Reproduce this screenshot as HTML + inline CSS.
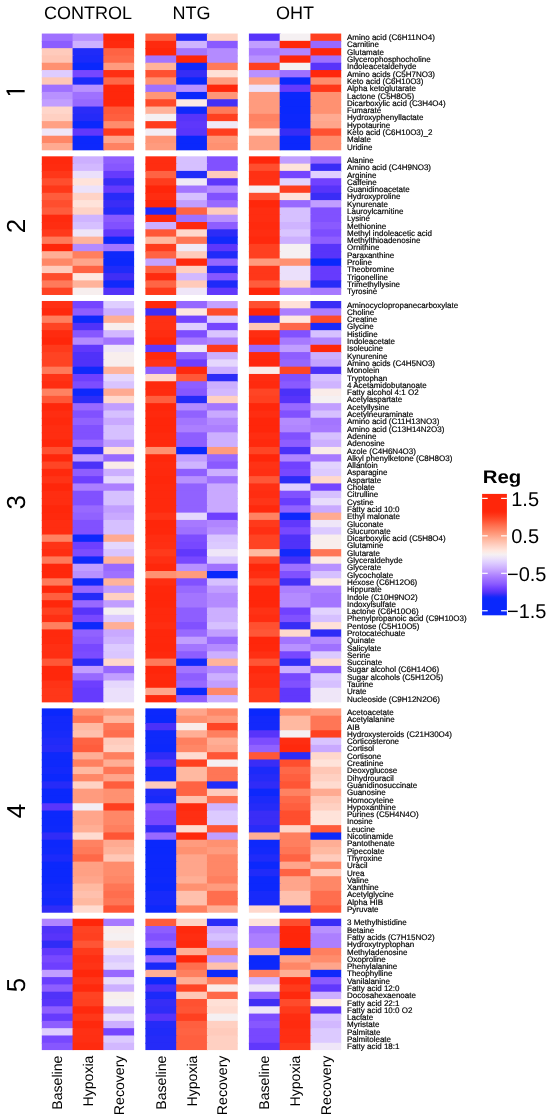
<!DOCTYPE html>
<html><head><meta charset="utf-8"><title>Heatmap</title>
<style>
html,body{margin:0;padding:0;background:#fff}
body{width:550px;height:1118px;overflow:hidden;position:relative}
svg{position:absolute;left:0;top:0;display:block}
text{font-family:"Liberation Sans",Arial,Helvetica,sans-serif;fill:#000;text-rendering:geometricPrecision}
.l{font-size:8.0px;stroke:#000;stroke-width:.18px}
.h{font-size:18px;text-anchor:middle}
.b{font-size:14.1px;text-anchor:end}
.k{font-size:26px;text-anchor:middle}
.t{font-size:20px}
.n{font-family:"IPAGothic","Liberation Sans",sans-serif}
</style></head><body>
<svg width="550" height="1118" viewBox="0 0 550 1118">
<rect width="550" height="1118" fill="#fff"/>
<text class="h" x="88.0" y="19.2">CONTROL</text>
<text class="h" x="191.6" y="19.2">NTG</text>
<text class="h" x="295.1" y="19.2">OHT</text>
<g>
<rect x="41.80" y="33.55" width="31.77" height="8.30" fill="#9f71ff"/>
<rect x="72.57" y="33.55" width="31.77" height="8.30" fill="#b891ff"/>
<rect x="103.34" y="33.55" width="30.77" height="8.30" fill="#ff270b"/>
<rect x="145.40" y="33.55" width="31.77" height="8.30" fill="#ff5d3d"/>
<rect x="176.17" y="33.55" width="31.77" height="8.30" fill="#262bf8"/>
<rect x="206.94" y="33.55" width="30.77" height="8.30" fill="#ffd2c4"/>
<rect x="248.90" y="33.55" width="31.77" height="8.30" fill="#5834fa"/>
<rect x="279.67" y="33.55" width="31.77" height="8.30" fill="#f5f0f2"/>
<rect x="310.44" y="33.55" width="30.77" height="8.30" fill="#ff4020"/>
<rect x="41.80" y="40.85" width="31.77" height="8.30" fill="#8c5dff"/>
<rect x="72.57" y="40.85" width="31.77" height="8.30" fill="#cdb1ff"/>
<rect x="103.34" y="40.85" width="30.77" height="8.30" fill="#ff2a0e"/>
<rect x="145.40" y="40.85" width="31.77" height="8.30" fill="#ff2a0e"/>
<rect x="176.17" y="40.85" width="31.77" height="8.30" fill="#cfb4ff"/>
<rect x="206.94" y="40.85" width="30.77" height="8.30" fill="#8a5aff"/>
<rect x="248.90" y="40.85" width="31.77" height="8.30" fill="#c19eff"/>
<rect x="279.67" y="40.85" width="31.77" height="8.30" fill="#ff270b"/>
<rect x="310.44" y="40.85" width="30.77" height="8.30" fill="#9869ff"/>
<rect x="41.80" y="48.15" width="31.77" height="8.30" fill="#ffcbbc"/>
<rect x="72.57" y="48.15" width="31.77" height="8.30" fill="#202bf9"/>
<rect x="103.34" y="48.15" width="30.77" height="8.30" fill="#ff6343"/>
<rect x="145.40" y="48.15" width="31.77" height="8.30" fill="#ff260a"/>
<rect x="176.17" y="48.15" width="31.77" height="8.30" fill="#a375ff"/>
<rect x="206.94" y="48.15" width="30.77" height="8.30" fill="#b48bff"/>
<rect x="248.90" y="48.15" width="31.77" height="8.30" fill="#a779ff"/>
<rect x="279.67" y="48.15" width="31.77" height="8.30" fill="#b085ff"/>
<rect x="310.44" y="48.15" width="30.77" height="8.30" fill="#ff260a"/>
<rect x="41.80" y="55.44" width="31.77" height="8.30" fill="#ffc5b4"/>
<rect x="72.57" y="55.44" width="31.77" height="8.30" fill="#1b2afa"/>
<rect x="103.34" y="55.44" width="30.77" height="8.30" fill="#ff6a4a"/>
<rect x="145.40" y="55.44" width="31.77" height="8.30" fill="#a375ff"/>
<rect x="176.17" y="55.44" width="31.77" height="8.30" fill="#ff260a"/>
<rect x="206.94" y="55.44" width="30.77" height="8.30" fill="#b48bff"/>
<rect x="248.90" y="55.44" width="31.77" height="8.30" fill="#b891ff"/>
<rect x="279.67" y="55.44" width="31.77" height="8.30" fill="#ff270b"/>
<rect x="310.44" y="55.44" width="30.77" height="8.30" fill="#9f71ff"/>
<rect x="41.80" y="62.74" width="31.77" height="8.30" fill="#ff9171"/>
<rect x="72.57" y="62.74" width="31.77" height="8.30" fill="#0a28fc"/>
<rect x="103.34" y="62.74" width="30.77" height="8.30" fill="#ff9b7e"/>
<rect x="145.40" y="62.74" width="31.77" height="8.30" fill="#ffb39b"/>
<rect x="176.17" y="62.74" width="31.77" height="8.30" fill="#1029fb"/>
<rect x="206.94" y="62.74" width="30.77" height="8.30" fill="#ff7a5a"/>
<rect x="248.90" y="62.74" width="31.77" height="8.30" fill="#ff4020"/>
<rect x="279.67" y="62.74" width="31.77" height="8.30" fill="#f5f0f2"/>
<rect x="310.44" y="62.74" width="30.77" height="8.30" fill="#5834fa"/>
<rect x="41.80" y="70.04" width="31.77" height="8.30" fill="#deccff"/>
<rect x="72.57" y="70.04" width="31.77" height="8.30" fill="#7747ff"/>
<rect x="103.34" y="70.04" width="30.77" height="8.30" fill="#ff2f13"/>
<rect x="145.40" y="70.04" width="31.77" height="8.30" fill="#ff5131"/>
<rect x="176.17" y="70.04" width="31.77" height="8.30" fill="#362df6"/>
<rect x="206.94" y="70.04" width="30.77" height="8.30" fill="#ffe0d6"/>
<rect x="248.90" y="70.04" width="31.77" height="8.30" fill="#b891ff"/>
<rect x="279.67" y="70.04" width="31.77" height="8.30" fill="#9f71ff"/>
<rect x="310.44" y="70.04" width="30.77" height="8.30" fill="#ff270b"/>
<rect x="41.80" y="77.34" width="31.77" height="8.30" fill="#ffc7b6"/>
<rect x="72.57" y="77.34" width="31.77" height="8.30" fill="#1c2afa"/>
<rect x="103.34" y="77.34" width="30.77" height="8.30" fill="#ff6848"/>
<rect x="145.40" y="77.34" width="31.77" height="8.30" fill="#ff9171"/>
<rect x="176.17" y="77.34" width="31.77" height="8.30" fill="#0a28fc"/>
<rect x="206.94" y="77.34" width="30.77" height="8.30" fill="#ff9b7e"/>
<rect x="248.90" y="77.34" width="31.77" height="8.30" fill="#ffa084"/>
<rect x="279.67" y="77.34" width="31.77" height="8.30" fill="#0b28fc"/>
<rect x="310.44" y="77.34" width="30.77" height="8.30" fill="#ff8c6c"/>
<rect x="41.80" y="84.64" width="31.77" height="8.30" fill="#9f71ff"/>
<rect x="72.57" y="84.64" width="31.77" height="8.30" fill="#b891ff"/>
<rect x="103.34" y="84.64" width="30.77" height="8.30" fill="#ff270b"/>
<rect x="145.40" y="84.64" width="31.77" height="8.30" fill="#9f71ff"/>
<rect x="176.17" y="84.64" width="31.77" height="8.30" fill="#b891ff"/>
<rect x="206.94" y="84.64" width="30.77" height="8.30" fill="#ff270b"/>
<rect x="248.90" y="84.64" width="31.77" height="8.30" fill="#ece2fa"/>
<rect x="279.67" y="84.64" width="31.77" height="8.30" fill="#653afd"/>
<rect x="310.44" y="84.64" width="30.77" height="8.30" fill="#ff3819"/>
<rect x="41.80" y="91.93" width="31.77" height="8.30" fill="#b891ff"/>
<rect x="72.57" y="91.93" width="31.77" height="8.30" fill="#9f71ff"/>
<rect x="103.34" y="91.93" width="30.77" height="8.30" fill="#ff270b"/>
<rect x="145.40" y="91.93" width="31.77" height="8.30" fill="#ff9677"/>
<rect x="176.17" y="91.93" width="31.77" height="8.30" fill="#0a28fc"/>
<rect x="206.94" y="91.93" width="30.77" height="8.30" fill="#ff9677"/>
<rect x="248.90" y="91.93" width="31.77" height="8.30" fill="#ff9b7e"/>
<rect x="279.67" y="91.93" width="31.77" height="8.30" fill="#0a28fc"/>
<rect x="310.44" y="91.93" width="30.77" height="8.30" fill="#ff9171"/>
<rect x="41.80" y="99.23" width="31.77" height="8.30" fill="#c19eff"/>
<rect x="72.57" y="99.23" width="31.77" height="8.30" fill="#9869ff"/>
<rect x="103.34" y="99.23" width="30.77" height="8.30" fill="#ff270b"/>
<rect x="145.40" y="99.23" width="31.77" height="8.30" fill="#ff4929"/>
<rect x="176.17" y="99.23" width="31.77" height="8.30" fill="#fdeae4"/>
<rect x="206.94" y="99.23" width="30.77" height="8.30" fill="#442ff6"/>
<rect x="248.90" y="99.23" width="31.77" height="8.30" fill="#ff9b7e"/>
<rect x="279.67" y="99.23" width="31.77" height="8.30" fill="#0a28fc"/>
<rect x="310.44" y="99.23" width="30.77" height="8.30" fill="#ff9171"/>
<rect x="41.80" y="106.53" width="31.77" height="8.30" fill="#ffd6ca"/>
<rect x="72.57" y="106.53" width="31.77" height="8.30" fill="#2b2cf8"/>
<rect x="103.34" y="106.53" width="30.77" height="8.30" fill="#ff5939"/>
<rect x="145.40" y="106.53" width="31.77" height="8.30" fill="#ffb39b"/>
<rect x="176.17" y="106.53" width="31.77" height="8.30" fill="#1029fb"/>
<rect x="206.94" y="106.53" width="30.77" height="8.30" fill="#ff7a5a"/>
<rect x="248.90" y="106.53" width="31.77" height="8.30" fill="#ff9b7e"/>
<rect x="279.67" y="106.53" width="31.77" height="8.30" fill="#0a28fc"/>
<rect x="310.44" y="106.53" width="30.77" height="8.30" fill="#ff9171"/>
<rect x="41.80" y="113.83" width="31.77" height="8.30" fill="#ffd0c2"/>
<rect x="72.57" y="113.83" width="31.77" height="8.30" fill="#252bf8"/>
<rect x="103.34" y="113.83" width="30.77" height="8.30" fill="#ff5f3f"/>
<rect x="145.40" y="113.83" width="31.77" height="8.30" fill="#f5f0f2"/>
<rect x="176.17" y="113.83" width="31.77" height="8.30" fill="#5834fa"/>
<rect x="206.94" y="113.83" width="30.77" height="8.30" fill="#ff4020"/>
<rect x="248.90" y="113.83" width="31.77" height="8.30" fill="#ff8262"/>
<rect x="279.67" y="113.83" width="31.77" height="8.30" fill="#0d28fc"/>
<rect x="310.44" y="113.83" width="30.77" height="8.30" fill="#ffaa91"/>
<rect x="41.80" y="121.13" width="31.77" height="8.30" fill="#ffa084"/>
<rect x="72.57" y="121.13" width="31.77" height="8.30" fill="#0b28fc"/>
<rect x="103.34" y="121.13" width="30.77" height="8.30" fill="#ff8c6c"/>
<rect x="145.40" y="121.13" width="31.77" height="8.30" fill="#ff3c1d"/>
<rect x="176.17" y="121.13" width="31.77" height="8.30" fill="#5e37fb"/>
<rect x="206.94" y="121.13" width="30.77" height="8.30" fill="#f0e9f6"/>
<rect x="248.90" y="121.13" width="31.77" height="8.30" fill="#ff8767"/>
<rect x="279.67" y="121.13" width="31.77" height="8.30" fill="#0c28fc"/>
<rect x="310.44" y="121.13" width="30.77" height="8.30" fill="#ffa58b"/>
<rect x="41.80" y="128.42" width="31.77" height="8.30" fill="#efe6f8"/>
<rect x="72.57" y="128.42" width="31.77" height="8.30" fill="#6138fc"/>
<rect x="103.34" y="128.42" width="30.77" height="8.30" fill="#ff3a1b"/>
<rect x="145.40" y="128.42" width="31.77" height="8.30" fill="#f3edf4"/>
<rect x="176.17" y="128.42" width="31.77" height="8.30" fill="#5a35fb"/>
<rect x="206.94" y="128.42" width="30.77" height="8.30" fill="#ff3e1f"/>
<rect x="248.90" y="128.42" width="31.77" height="8.30" fill="#ffe0d6"/>
<rect x="279.67" y="128.42" width="31.77" height="8.30" fill="#362df6"/>
<rect x="310.44" y="128.42" width="30.77" height="8.30" fill="#ff5131"/>
<rect x="41.80" y="135.72" width="31.77" height="8.30" fill="#ff8767"/>
<rect x="72.57" y="135.72" width="31.77" height="8.30" fill="#0c28fc"/>
<rect x="103.34" y="135.72" width="30.77" height="8.30" fill="#ffa58b"/>
<rect x="145.40" y="135.72" width="31.77" height="8.30" fill="#ff9677"/>
<rect x="176.17" y="135.72" width="31.77" height="8.30" fill="#0a28fc"/>
<rect x="206.94" y="135.72" width="30.77" height="8.30" fill="#ff9677"/>
<rect x="248.90" y="135.72" width="31.77" height="8.30" fill="#ffa084"/>
<rect x="279.67" y="135.72" width="31.77" height="8.30" fill="#0b28fc"/>
<rect x="310.44" y="135.72" width="30.77" height="8.30" fill="#ff8c6c"/>
<rect x="41.80" y="143.02" width="31.77" height="7.30" fill="#ffaa91"/>
<rect x="72.57" y="143.02" width="31.77" height="7.30" fill="#0d28fc"/>
<rect x="103.34" y="143.02" width="30.77" height="7.30" fill="#ff8262"/>
<rect x="145.40" y="143.02" width="31.77" height="7.30" fill="#ff9b7e"/>
<rect x="176.17" y="143.02" width="31.77" height="7.30" fill="#0a28fc"/>
<rect x="206.94" y="143.02" width="30.77" height="7.30" fill="#ff9171"/>
<rect x="248.90" y="143.02" width="31.77" height="7.30" fill="#ffa084"/>
<rect x="279.67" y="143.02" width="31.77" height="7.30" fill="#0b28fc"/>
<rect x="310.44" y="143.02" width="30.77" height="7.30" fill="#ff8c6c"/>
<rect x="41.80" y="156.32" width="31.77" height="8.30" fill="#ff290d"/>
<rect x="72.57" y="156.32" width="31.77" height="8.30" fill="#ccafff"/>
<rect x="103.34" y="156.32" width="30.77" height="8.30" fill="#8e5eff"/>
<rect x="145.40" y="156.32" width="31.77" height="8.30" fill="#ff2d11"/>
<rect x="176.17" y="156.32" width="31.77" height="8.30" fill="#d6c0ff"/>
<rect x="206.94" y="156.32" width="30.77" height="8.30" fill="#8151ff"/>
<rect x="248.90" y="156.32" width="31.77" height="8.30" fill="#ff270b"/>
<rect x="279.67" y="156.32" width="31.77" height="8.30" fill="#c19eff"/>
<rect x="310.44" y="156.32" width="30.77" height="8.30" fill="#9869ff"/>
<rect x="41.80" y="163.62" width="31.77" height="8.30" fill="#ff2b0f"/>
<rect x="72.57" y="163.62" width="31.77" height="8.30" fill="#d2b8ff"/>
<rect x="103.34" y="163.62" width="30.77" height="8.30" fill="#8757ff"/>
<rect x="145.40" y="163.62" width="31.77" height="8.30" fill="#ff2d11"/>
<rect x="176.17" y="163.62" width="31.77" height="8.30" fill="#d6c0ff"/>
<rect x="206.94" y="163.62" width="30.77" height="8.30" fill="#8151ff"/>
<rect x="248.90" y="163.62" width="31.77" height="8.30" fill="#ff4e2e"/>
<rect x="279.67" y="163.62" width="31.77" height="8.30" fill="#ffe3da"/>
<rect x="310.44" y="163.62" width="30.77" height="8.30" fill="#3a2df6"/>
<rect x="41.80" y="170.91" width="31.77" height="8.30" fill="#ff3719"/>
<rect x="72.57" y="170.91" width="31.77" height="8.30" fill="#ebe0fb"/>
<rect x="103.34" y="170.91" width="30.77" height="8.30" fill="#663bfd"/>
<rect x="145.40" y="170.91" width="31.77" height="8.30" fill="#ff6343"/>
<rect x="176.17" y="170.91" width="31.77" height="8.30" fill="#202bf9"/>
<rect x="206.94" y="170.91" width="30.77" height="8.30" fill="#ffcbbc"/>
<rect x="248.90" y="170.91" width="31.77" height="8.30" fill="#ff3114"/>
<rect x="279.67" y="170.91" width="31.77" height="8.30" fill="#7444ff"/>
<rect x="310.44" y="170.91" width="30.77" height="8.30" fill="#e0d0ff"/>
<rect x="41.80" y="178.21" width="31.77" height="8.30" fill="#ff4e2e"/>
<rect x="72.57" y="178.21" width="31.77" height="8.30" fill="#ffe3da"/>
<rect x="103.34" y="178.21" width="30.77" height="8.30" fill="#3a2df6"/>
<rect x="145.40" y="178.21" width="31.77" height="8.30" fill="#ff3c1d"/>
<rect x="176.17" y="178.21" width="31.77" height="8.30" fill="#f0e9f6"/>
<rect x="206.94" y="178.21" width="30.77" height="8.30" fill="#5e37fb"/>
<rect x="248.90" y="178.21" width="31.77" height="8.30" fill="#ff3215"/>
<rect x="279.67" y="178.21" width="31.77" height="8.30" fill="#e2d3fe"/>
<rect x="310.44" y="178.21" width="30.77" height="8.30" fill="#7141ff"/>
<rect x="41.80" y="185.51" width="31.77" height="8.30" fill="#ff3819"/>
<rect x="72.57" y="185.51" width="31.77" height="8.30" fill="#ece2fa"/>
<rect x="103.34" y="185.51" width="30.77" height="8.30" fill="#653afd"/>
<rect x="145.40" y="185.51" width="31.77" height="8.30" fill="#ff260a"/>
<rect x="176.17" y="185.51" width="31.77" height="8.30" fill="#a375ff"/>
<rect x="206.94" y="185.51" width="30.77" height="8.30" fill="#b48bff"/>
<rect x="248.90" y="185.51" width="31.77" height="8.30" fill="#f5f0f2"/>
<rect x="279.67" y="185.51" width="31.77" height="8.30" fill="#ff4020"/>
<rect x="310.44" y="185.51" width="30.77" height="8.30" fill="#5834fa"/>
<rect x="41.80" y="192.81" width="31.77" height="8.30" fill="#ff5c3c"/>
<rect x="72.57" y="192.81" width="31.77" height="8.30" fill="#ffd3c6"/>
<rect x="103.34" y="192.81" width="30.77" height="8.30" fill="#282bf8"/>
<rect x="145.40" y="192.81" width="31.77" height="8.30" fill="#ff2d11"/>
<rect x="176.17" y="192.81" width="31.77" height="8.30" fill="#d6c0ff"/>
<rect x="206.94" y="192.81" width="30.77" height="8.30" fill="#8151ff"/>
<rect x="248.90" y="192.81" width="31.77" height="8.30" fill="#ff4e2e"/>
<rect x="279.67" y="192.81" width="31.77" height="8.30" fill="#ffe3da"/>
<rect x="310.44" y="192.81" width="30.77" height="8.30" fill="#3a2df6"/>
<rect x="41.80" y="200.11" width="31.77" height="8.30" fill="#ff4e2e"/>
<rect x="72.57" y="200.11" width="31.77" height="8.30" fill="#ffe3da"/>
<rect x="103.34" y="200.11" width="30.77" height="8.30" fill="#3a2df6"/>
<rect x="145.40" y="200.11" width="31.77" height="8.30" fill="#ff270b"/>
<rect x="176.17" y="200.11" width="31.77" height="8.30" fill="#c19eff"/>
<rect x="206.94" y="200.11" width="30.77" height="8.30" fill="#9869ff"/>
<rect x="248.90" y="200.11" width="31.77" height="8.30" fill="#ff270b"/>
<rect x="279.67" y="200.11" width="31.77" height="8.30" fill="#9869ff"/>
<rect x="310.44" y="200.11" width="30.77" height="8.30" fill="#c19eff"/>
<rect x="41.80" y="207.40" width="31.77" height="8.30" fill="#ff5c3c"/>
<rect x="72.57" y="207.40" width="31.77" height="8.30" fill="#ffd3c6"/>
<rect x="103.34" y="207.40" width="30.77" height="8.30" fill="#282bf8"/>
<rect x="145.40" y="207.40" width="31.77" height="8.30" fill="#202bf9"/>
<rect x="176.17" y="207.40" width="31.77" height="8.30" fill="#ff6343"/>
<rect x="206.94" y="207.40" width="30.77" height="8.30" fill="#ffcbbc"/>
<rect x="248.90" y="207.40" width="31.77" height="8.30" fill="#ff2d11"/>
<rect x="279.67" y="207.40" width="31.77" height="8.30" fill="#d6c0ff"/>
<rect x="310.44" y="207.40" width="30.77" height="8.30" fill="#8151ff"/>
<rect x="41.80" y="214.70" width="31.77" height="8.30" fill="#ff2a0e"/>
<rect x="72.57" y="214.70" width="31.77" height="8.30" fill="#cfb4ff"/>
<rect x="103.34" y="214.70" width="30.77" height="8.30" fill="#8a5aff"/>
<rect x="145.40" y="214.70" width="31.77" height="8.30" fill="#ff270b"/>
<rect x="176.17" y="214.70" width="31.77" height="8.30" fill="#9f71ff"/>
<rect x="206.94" y="214.70" width="30.77" height="8.30" fill="#b891ff"/>
<rect x="248.90" y="214.70" width="31.77" height="8.30" fill="#ff2d11"/>
<rect x="279.67" y="214.70" width="31.77" height="8.30" fill="#d6c0ff"/>
<rect x="310.44" y="214.70" width="30.77" height="8.30" fill="#8151ff"/>
<rect x="41.80" y="222.00" width="31.77" height="8.30" fill="#ff2d11"/>
<rect x="72.57" y="222.00" width="31.77" height="8.30" fill="#d6c0ff"/>
<rect x="103.34" y="222.00" width="30.77" height="8.30" fill="#8151ff"/>
<rect x="145.40" y="222.00" width="31.77" height="8.30" fill="#ccafff"/>
<rect x="176.17" y="222.00" width="31.77" height="8.30" fill="#ff290d"/>
<rect x="206.94" y="222.00" width="30.77" height="8.30" fill="#8e5eff"/>
<rect x="248.90" y="222.00" width="31.77" height="8.30" fill="#ff2a0e"/>
<rect x="279.67" y="222.00" width="31.77" height="8.30" fill="#cfb4ff"/>
<rect x="310.44" y="222.00" width="30.77" height="8.30" fill="#8a5aff"/>
<rect x="41.80" y="229.30" width="31.77" height="8.30" fill="#ff391b"/>
<rect x="72.57" y="229.30" width="31.77" height="8.30" fill="#eee5f8"/>
<rect x="103.34" y="229.30" width="30.77" height="8.30" fill="#6239fc"/>
<rect x="145.40" y="229.30" width="31.77" height="8.30" fill="#ff5737"/>
<rect x="176.17" y="229.30" width="31.77" height="8.30" fill="#ffd8cc"/>
<rect x="206.94" y="229.30" width="30.77" height="8.30" fill="#2d2cf7"/>
<rect x="248.90" y="229.30" width="31.77" height="8.30" fill="#ff2d11"/>
<rect x="279.67" y="229.30" width="31.77" height="8.30" fill="#d9c4ff"/>
<rect x="310.44" y="229.30" width="30.77" height="8.30" fill="#7d4dff"/>
<rect x="41.80" y="236.60" width="31.77" height="8.30" fill="#ff7a5a"/>
<rect x="72.57" y="236.60" width="31.77" height="8.30" fill="#ffb39b"/>
<rect x="103.34" y="236.60" width="30.77" height="8.30" fill="#1029fb"/>
<rect x="145.40" y="236.60" width="31.77" height="8.30" fill="#ffb9a1"/>
<rect x="176.17" y="236.60" width="31.77" height="8.30" fill="#ff7656"/>
<rect x="206.94" y="236.60" width="30.77" height="8.30" fill="#1329fb"/>
<rect x="248.90" y="236.60" width="31.77" height="8.30" fill="#ff290d"/>
<rect x="279.67" y="236.60" width="31.77" height="8.30" fill="#ccafff"/>
<rect x="310.44" y="236.60" width="30.77" height="8.30" fill="#8e5eff"/>
<rect x="41.80" y="243.89" width="31.77" height="8.30" fill="#ff260a"/>
<rect x="72.57" y="243.89" width="31.77" height="8.30" fill="#b48bff"/>
<rect x="103.34" y="243.89" width="30.77" height="8.30" fill="#a375ff"/>
<rect x="145.40" y="243.89" width="31.77" height="8.30" fill="#ff3c1d"/>
<rect x="176.17" y="243.89" width="31.77" height="8.30" fill="#f0e9f6"/>
<rect x="206.94" y="243.89" width="30.77" height="8.30" fill="#5e37fb"/>
<rect x="248.90" y="243.89" width="31.77" height="8.30" fill="#ff4020"/>
<rect x="279.67" y="243.89" width="31.77" height="8.30" fill="#f5f0f2"/>
<rect x="310.44" y="243.89" width="30.77" height="8.30" fill="#5834fa"/>
<rect x="41.80" y="251.19" width="31.77" height="8.30" fill="#ffae95"/>
<rect x="72.57" y="251.19" width="31.77" height="8.30" fill="#ff7f5f"/>
<rect x="103.34" y="251.19" width="30.77" height="8.30" fill="#0e29fb"/>
<rect x="145.40" y="251.19" width="31.77" height="8.30" fill="#ff6343"/>
<rect x="176.17" y="251.19" width="31.77" height="8.30" fill="#ffcbbc"/>
<rect x="206.94" y="251.19" width="30.77" height="8.30" fill="#202bf9"/>
<rect x="248.90" y="251.19" width="31.77" height="8.30" fill="#ff4020"/>
<rect x="279.67" y="251.19" width="31.77" height="8.30" fill="#f5f0f2"/>
<rect x="310.44" y="251.19" width="30.77" height="8.30" fill="#5834fa"/>
<rect x="41.80" y="258.49" width="31.77" height="8.30" fill="#ff8767"/>
<rect x="72.57" y="258.49" width="31.77" height="8.30" fill="#ffa58b"/>
<rect x="103.34" y="258.49" width="30.77" height="8.30" fill="#0c28fc"/>
<rect x="145.40" y="258.49" width="31.77" height="8.30" fill="#c4a2ff"/>
<rect x="176.17" y="258.49" width="31.77" height="8.30" fill="#ff280c"/>
<rect x="206.94" y="258.49" width="30.77" height="8.30" fill="#9567ff"/>
<rect x="248.90" y="258.49" width="31.77" height="8.30" fill="#ff9b7e"/>
<rect x="279.67" y="258.49" width="31.77" height="8.30" fill="#ff9171"/>
<rect x="310.44" y="258.49" width="30.77" height="8.30" fill="#0a28fc"/>
<rect x="41.80" y="265.79" width="31.77" height="8.30" fill="#ffcbbc"/>
<rect x="72.57" y="265.79" width="31.77" height="8.30" fill="#ff6343"/>
<rect x="103.34" y="265.79" width="30.77" height="8.30" fill="#202bf9"/>
<rect x="145.40" y="265.79" width="31.77" height="8.30" fill="#ff5f3f"/>
<rect x="176.17" y="265.79" width="31.77" height="8.30" fill="#ffd0c2"/>
<rect x="206.94" y="265.79" width="30.77" height="8.30" fill="#252bf8"/>
<rect x="248.90" y="265.79" width="31.77" height="8.30" fill="#ff3719"/>
<rect x="279.67" y="265.79" width="31.77" height="8.30" fill="#ebe0fb"/>
<rect x="310.44" y="265.79" width="30.77" height="8.30" fill="#663bfd"/>
<rect x="41.80" y="273.09" width="31.77" height="8.30" fill="#ff4b2b"/>
<rect x="72.57" y="273.09" width="31.77" height="8.30" fill="#ffe8e0"/>
<rect x="103.34" y="273.09" width="30.77" height="8.30" fill="#402ef5"/>
<rect x="145.40" y="273.09" width="31.77" height="8.30" fill="#ff2b0f"/>
<rect x="176.17" y="273.09" width="31.77" height="8.30" fill="#d2b8ff"/>
<rect x="206.94" y="273.09" width="30.77" height="8.30" fill="#8757ff"/>
<rect x="248.90" y="273.09" width="31.77" height="8.30" fill="#ff3719"/>
<rect x="279.67" y="273.09" width="31.77" height="8.30" fill="#ebe0fb"/>
<rect x="310.44" y="273.09" width="30.77" height="8.30" fill="#663bfd"/>
<rect x="41.80" y="280.38" width="31.77" height="8.30" fill="#ff7a5a"/>
<rect x="72.57" y="280.38" width="31.77" height="8.30" fill="#ffb39b"/>
<rect x="103.34" y="280.38" width="30.77" height="8.30" fill="#1029fb"/>
<rect x="145.40" y="280.38" width="31.77" height="8.30" fill="#ff6545"/>
<rect x="176.17" y="280.38" width="31.77" height="8.30" fill="#ffcaba"/>
<rect x="206.94" y="280.38" width="30.77" height="8.30" fill="#1f2af9"/>
<rect x="248.90" y="280.38" width="31.77" height="8.30" fill="#ff5c3c"/>
<rect x="279.67" y="280.38" width="31.77" height="8.30" fill="#ffd3c6"/>
<rect x="310.44" y="280.38" width="30.77" height="8.30" fill="#282bf8"/>
<rect x="41.80" y="287.68" width="31.77" height="7.30" fill="#ff4222"/>
<rect x="72.57" y="287.68" width="31.77" height="7.30" fill="#f7eeee"/>
<rect x="103.34" y="287.68" width="30.77" height="7.30" fill="#5333f9"/>
<rect x="145.40" y="287.68" width="31.77" height="7.30" fill="#ff3a1b"/>
<rect x="176.17" y="287.68" width="31.77" height="7.30" fill="#efe6f8"/>
<rect x="206.94" y="287.68" width="30.77" height="7.30" fill="#6138fc"/>
<rect x="248.90" y="287.68" width="31.77" height="7.30" fill="#ff260a"/>
<rect x="279.67" y="287.68" width="31.77" height="7.30" fill="#b085ff"/>
<rect x="310.44" y="287.68" width="30.77" height="7.30" fill="#a779ff"/>
<rect x="41.80" y="300.98" width="31.77" height="8.30" fill="#ff3014"/>
<rect x="72.57" y="300.98" width="31.77" height="8.30" fill="#7545ff"/>
<rect x="103.34" y="300.98" width="30.77" height="8.30" fill="#dfceff"/>
<rect x="145.40" y="300.98" width="31.77" height="8.30" fill="#ff280c"/>
<rect x="176.17" y="300.98" width="31.77" height="8.30" fill="#9567ff"/>
<rect x="206.94" y="300.98" width="30.77" height="8.30" fill="#c4a2ff"/>
<rect x="248.90" y="300.98" width="31.77" height="8.30" fill="#ff5030"/>
<rect x="279.67" y="300.98" width="31.77" height="8.30" fill="#ffe1d8"/>
<rect x="310.44" y="300.98" width="30.77" height="8.30" fill="#382df6"/>
<rect x="41.80" y="308.28" width="31.77" height="8.30" fill="#ff290d"/>
<rect x="72.57" y="308.28" width="31.77" height="8.30" fill="#8e5eff"/>
<rect x="103.34" y="308.28" width="30.77" height="8.30" fill="#ccafff"/>
<rect x="145.40" y="308.28" width="31.77" height="8.30" fill="#402ef5"/>
<rect x="176.17" y="308.28" width="31.77" height="8.30" fill="#ffe8e0"/>
<rect x="206.94" y="308.28" width="30.77" height="8.30" fill="#ff4b2b"/>
<rect x="248.90" y="308.28" width="31.77" height="8.30" fill="#ff260a"/>
<rect x="279.67" y="308.28" width="31.77" height="8.30" fill="#ac7fff"/>
<rect x="310.44" y="308.28" width="30.77" height="8.30" fill="#ac7fff"/>
<rect x="41.80" y="315.58" width="31.77" height="8.30" fill="#ff7f5f"/>
<rect x="72.57" y="315.58" width="31.77" height="8.30" fill="#0e29fb"/>
<rect x="103.34" y="315.58" width="30.77" height="8.30" fill="#ffae95"/>
<rect x="145.40" y="315.58" width="31.77" height="8.30" fill="#ff3014"/>
<rect x="176.17" y="315.58" width="31.77" height="8.30" fill="#7545ff"/>
<rect x="206.94" y="315.58" width="30.77" height="8.30" fill="#dfceff"/>
<rect x="248.90" y="315.58" width="31.77" height="8.30" fill="#402ef5"/>
<rect x="279.67" y="315.58" width="31.77" height="8.30" fill="#ffe8e0"/>
<rect x="310.44" y="315.58" width="30.77" height="8.30" fill="#ff4b2b"/>
<rect x="41.80" y="322.87" width="31.77" height="8.30" fill="#ff4323"/>
<rect x="72.57" y="322.87" width="31.77" height="8.30" fill="#5032f9"/>
<rect x="103.34" y="322.87" width="30.77" height="8.30" fill="#f8eeed"/>
<rect x="145.40" y="322.87" width="31.77" height="8.30" fill="#ff3014"/>
<rect x="176.17" y="322.87" width="31.77" height="8.30" fill="#dfceff"/>
<rect x="206.94" y="322.87" width="30.77" height="8.30" fill="#7545ff"/>
<rect x="248.90" y="322.87" width="31.77" height="8.30" fill="#ffc7b6"/>
<rect x="279.67" y="322.87" width="31.77" height="8.30" fill="#ff6848"/>
<rect x="310.44" y="322.87" width="30.77" height="8.30" fill="#1c2afa"/>
<rect x="41.80" y="330.17" width="31.77" height="8.30" fill="#ff2b0f"/>
<rect x="72.57" y="330.17" width="31.77" height="8.30" fill="#8757ff"/>
<rect x="103.34" y="330.17" width="30.77" height="8.30" fill="#d2b8ff"/>
<rect x="145.40" y="330.17" width="31.77" height="8.30" fill="#ff2d11"/>
<rect x="176.17" y="330.17" width="31.77" height="8.30" fill="#7d4dff"/>
<rect x="206.94" y="330.17" width="30.77" height="8.30" fill="#d9c4ff"/>
<rect x="248.90" y="330.17" width="31.77" height="8.30" fill="#ff2d11"/>
<rect x="279.67" y="330.17" width="31.77" height="8.30" fill="#8151ff"/>
<rect x="310.44" y="330.17" width="30.77" height="8.30" fill="#d6c0ff"/>
<rect x="41.80" y="337.47" width="31.77" height="8.30" fill="#ff260a"/>
<rect x="72.57" y="337.47" width="31.77" height="8.30" fill="#b48bff"/>
<rect x="103.34" y="337.47" width="30.77" height="8.30" fill="#a375ff"/>
<rect x="145.40" y="337.47" width="31.77" height="8.30" fill="#ff260a"/>
<rect x="176.17" y="337.47" width="31.77" height="8.30" fill="#a779ff"/>
<rect x="206.94" y="337.47" width="30.77" height="8.30" fill="#b085ff"/>
<rect x="248.90" y="337.47" width="31.77" height="8.30" fill="#ff260a"/>
<rect x="279.67" y="337.47" width="31.77" height="8.30" fill="#a779ff"/>
<rect x="310.44" y="337.47" width="30.77" height="8.30" fill="#b085ff"/>
<rect x="41.80" y="344.77" width="31.77" height="8.30" fill="#ff3a1b"/>
<rect x="72.57" y="344.77" width="31.77" height="8.30" fill="#6138fc"/>
<rect x="103.34" y="344.77" width="30.77" height="8.30" fill="#efe6f8"/>
<rect x="145.40" y="344.77" width="31.77" height="8.30" fill="#6138fc"/>
<rect x="176.17" y="344.77" width="31.77" height="8.30" fill="#efe6f8"/>
<rect x="206.94" y="344.77" width="30.77" height="8.30" fill="#ff3a1b"/>
<rect x="248.90" y="344.77" width="31.77" height="8.30" fill="#9869ff"/>
<rect x="279.67" y="344.77" width="31.77" height="8.30" fill="#c19eff"/>
<rect x="310.44" y="344.77" width="30.77" height="8.30" fill="#ff270b"/>
<rect x="41.80" y="352.07" width="31.77" height="8.30" fill="#ff4323"/>
<rect x="72.57" y="352.07" width="31.77" height="8.30" fill="#5032f9"/>
<rect x="103.34" y="352.07" width="30.77" height="8.30" fill="#f8eeed"/>
<rect x="145.40" y="352.07" width="31.77" height="8.30" fill="#ff290d"/>
<rect x="176.17" y="352.07" width="31.77" height="8.30" fill="#8e5eff"/>
<rect x="206.94" y="352.07" width="30.77" height="8.30" fill="#ccafff"/>
<rect x="248.90" y="352.07" width="31.77" height="8.30" fill="#ff290d"/>
<rect x="279.67" y="352.07" width="31.77" height="8.30" fill="#8e5eff"/>
<rect x="310.44" y="352.07" width="30.77" height="8.30" fill="#ccafff"/>
<rect x="41.80" y="359.36" width="31.77" height="8.30" fill="#ff4323"/>
<rect x="72.57" y="359.36" width="31.77" height="8.30" fill="#5032f9"/>
<rect x="103.34" y="359.36" width="30.77" height="8.30" fill="#f8eeed"/>
<rect x="145.40" y="359.36" width="31.77" height="8.30" fill="#ff3316"/>
<rect x="176.17" y="359.36" width="31.77" height="8.30" fill="#6e3fff"/>
<rect x="206.94" y="359.36" width="30.77" height="8.30" fill="#e5d7fd"/>
<rect x="248.90" y="359.36" width="31.77" height="8.30" fill="#ff280c"/>
<rect x="279.67" y="359.36" width="31.77" height="8.30" fill="#9567ff"/>
<rect x="310.44" y="359.36" width="30.77" height="8.30" fill="#c4a2ff"/>
<rect x="41.80" y="366.66" width="31.77" height="8.30" fill="#ff7a5a"/>
<rect x="72.57" y="366.66" width="31.77" height="8.30" fill="#1029fb"/>
<rect x="103.34" y="366.66" width="30.77" height="8.30" fill="#ffb39b"/>
<rect x="145.40" y="366.66" width="31.77" height="8.30" fill="#8e5eff"/>
<rect x="176.17" y="366.66" width="31.77" height="8.30" fill="#ff290d"/>
<rect x="206.94" y="366.66" width="30.77" height="8.30" fill="#ccafff"/>
<rect x="248.90" y="366.66" width="31.77" height="8.30" fill="#faece9"/>
<rect x="279.67" y="366.66" width="31.77" height="8.30" fill="#ff4525"/>
<rect x="310.44" y="366.66" width="30.77" height="8.30" fill="#4b31f8"/>
<rect x="41.80" y="373.96" width="31.77" height="8.30" fill="#ff3316"/>
<rect x="72.57" y="373.96" width="31.77" height="8.30" fill="#6e3fff"/>
<rect x="103.34" y="373.96" width="30.77" height="8.30" fill="#e5d7fd"/>
<rect x="145.40" y="373.96" width="31.77" height="8.30" fill="#ffd8cc"/>
<rect x="176.17" y="373.96" width="31.77" height="8.30" fill="#ff5737"/>
<rect x="206.94" y="373.96" width="30.77" height="8.30" fill="#2d2cf7"/>
<rect x="248.90" y="373.96" width="31.77" height="8.30" fill="#ff2d11"/>
<rect x="279.67" y="373.96" width="31.77" height="8.30" fill="#8151ff"/>
<rect x="310.44" y="373.96" width="30.77" height="8.30" fill="#d6c0ff"/>
<rect x="41.80" y="381.26" width="31.77" height="8.30" fill="#ff2d11"/>
<rect x="72.57" y="381.26" width="31.77" height="8.30" fill="#7d4dff"/>
<rect x="103.34" y="381.26" width="30.77" height="8.30" fill="#d9c4ff"/>
<rect x="145.40" y="381.26" width="31.77" height="8.30" fill="#ff290d"/>
<rect x="176.17" y="381.26" width="31.77" height="8.30" fill="#8e5eff"/>
<rect x="206.94" y="381.26" width="30.77" height="8.30" fill="#ccafff"/>
<rect x="248.90" y="381.26" width="31.77" height="8.30" fill="#ff2a0e"/>
<rect x="279.67" y="381.26" width="31.77" height="8.30" fill="#8a5aff"/>
<rect x="310.44" y="381.26" width="30.77" height="8.30" fill="#cfb4ff"/>
<rect x="41.80" y="388.56" width="31.77" height="8.30" fill="#ff8262"/>
<rect x="72.57" y="388.56" width="31.77" height="8.30" fill="#0d28fc"/>
<rect x="103.34" y="388.56" width="30.77" height="8.30" fill="#ffaa91"/>
<rect x="145.40" y="388.56" width="31.77" height="8.30" fill="#ff2b0f"/>
<rect x="176.17" y="388.56" width="31.77" height="8.30" fill="#8757ff"/>
<rect x="206.94" y="388.56" width="30.77" height="8.30" fill="#d2b8ff"/>
<rect x="248.90" y="388.56" width="31.77" height="8.30" fill="#ff4525"/>
<rect x="279.67" y="388.56" width="31.77" height="8.30" fill="#4b31f8"/>
<rect x="310.44" y="388.56" width="30.77" height="8.30" fill="#faece9"/>
<rect x="41.80" y="395.85" width="31.77" height="8.30" fill="#ff5737"/>
<rect x="72.57" y="395.85" width="31.77" height="8.30" fill="#2d2cf7"/>
<rect x="103.34" y="395.85" width="30.77" height="8.30" fill="#ffd8cc"/>
<rect x="145.40" y="395.85" width="31.77" height="8.30" fill="#ff5f3f"/>
<rect x="176.17" y="395.85" width="31.77" height="8.30" fill="#252bf8"/>
<rect x="206.94" y="395.85" width="30.77" height="8.30" fill="#ffd0c2"/>
<rect x="248.90" y="395.85" width="31.77" height="8.30" fill="#ff4020"/>
<rect x="279.67" y="395.85" width="31.77" height="8.30" fill="#5834fa"/>
<rect x="310.44" y="395.85" width="30.77" height="8.30" fill="#f5f0f2"/>
<rect x="41.80" y="403.15" width="31.77" height="8.30" fill="#ff270b"/>
<rect x="72.57" y="403.15" width="31.77" height="8.30" fill="#9869ff"/>
<rect x="103.34" y="403.15" width="30.77" height="8.30" fill="#c19eff"/>
<rect x="145.40" y="403.15" width="31.77" height="8.30" fill="#ff260a"/>
<rect x="176.17" y="403.15" width="31.77" height="8.30" fill="#b48bff"/>
<rect x="206.94" y="403.15" width="30.77" height="8.30" fill="#a375ff"/>
<rect x="248.90" y="403.15" width="31.77" height="8.30" fill="#ff270b"/>
<rect x="279.67" y="403.15" width="31.77" height="8.30" fill="#9869ff"/>
<rect x="310.44" y="403.15" width="30.77" height="8.30" fill="#c19eff"/>
<rect x="41.80" y="410.45" width="31.77" height="8.30" fill="#ff2d11"/>
<rect x="72.57" y="410.45" width="31.77" height="8.30" fill="#8151ff"/>
<rect x="103.34" y="410.45" width="30.77" height="8.30" fill="#d6c0ff"/>
<rect x="145.40" y="410.45" width="31.77" height="8.30" fill="#ff290d"/>
<rect x="176.17" y="410.45" width="31.77" height="8.30" fill="#9162ff"/>
<rect x="206.94" y="410.45" width="30.77" height="8.30" fill="#c9a9ff"/>
<rect x="248.90" y="410.45" width="31.77" height="8.30" fill="#ff2d11"/>
<rect x="279.67" y="410.45" width="31.77" height="8.30" fill="#8151ff"/>
<rect x="310.44" y="410.45" width="30.77" height="8.30" fill="#d6c0ff"/>
<rect x="41.80" y="417.75" width="31.77" height="8.30" fill="#ff290d"/>
<rect x="72.57" y="417.75" width="31.77" height="8.30" fill="#9162ff"/>
<rect x="103.34" y="417.75" width="30.77" height="8.30" fill="#c9a9ff"/>
<rect x="145.40" y="417.75" width="31.77" height="8.30" fill="#ff260a"/>
<rect x="176.17" y="417.75" width="31.77" height="8.30" fill="#a375ff"/>
<rect x="206.94" y="417.75" width="30.77" height="8.30" fill="#b48bff"/>
<rect x="248.90" y="417.75" width="31.77" height="8.30" fill="#ff260a"/>
<rect x="279.67" y="417.75" width="31.77" height="8.30" fill="#b48bff"/>
<rect x="310.44" y="417.75" width="30.77" height="8.30" fill="#a375ff"/>
<rect x="41.80" y="425.05" width="31.77" height="8.30" fill="#ff2d11"/>
<rect x="72.57" y="425.05" width="31.77" height="8.30" fill="#8151ff"/>
<rect x="103.34" y="425.05" width="30.77" height="8.30" fill="#d6c0ff"/>
<rect x="145.40" y="425.05" width="31.77" height="8.30" fill="#ff260a"/>
<rect x="176.17" y="425.05" width="31.77" height="8.30" fill="#ac7fff"/>
<rect x="206.94" y="425.05" width="30.77" height="8.30" fill="#ac7fff"/>
<rect x="248.90" y="425.05" width="31.77" height="8.30" fill="#ff260a"/>
<rect x="279.67" y="425.05" width="31.77" height="8.30" fill="#b085ff"/>
<rect x="310.44" y="425.05" width="30.77" height="8.30" fill="#a779ff"/>
<rect x="41.80" y="432.34" width="31.77" height="8.30" fill="#ff2d11"/>
<rect x="72.57" y="432.34" width="31.77" height="8.30" fill="#8151ff"/>
<rect x="103.34" y="432.34" width="30.77" height="8.30" fill="#d6c0ff"/>
<rect x="145.40" y="432.34" width="31.77" height="8.30" fill="#ff290d"/>
<rect x="176.17" y="432.34" width="31.77" height="8.30" fill="#8e5eff"/>
<rect x="206.94" y="432.34" width="30.77" height="8.30" fill="#ccafff"/>
<rect x="248.90" y="432.34" width="31.77" height="8.30" fill="#ff2d11"/>
<rect x="279.67" y="432.34" width="31.77" height="8.30" fill="#8151ff"/>
<rect x="310.44" y="432.34" width="30.77" height="8.30" fill="#d6c0ff"/>
<rect x="41.80" y="439.64" width="31.77" height="8.30" fill="#ff270b"/>
<rect x="72.57" y="439.64" width="31.77" height="8.30" fill="#9869ff"/>
<rect x="103.34" y="439.64" width="30.77" height="8.30" fill="#c19eff"/>
<rect x="145.40" y="439.64" width="31.77" height="8.30" fill="#ff290d"/>
<rect x="176.17" y="439.64" width="31.77" height="8.30" fill="#8e5eff"/>
<rect x="206.94" y="439.64" width="30.77" height="8.30" fill="#ccafff"/>
<rect x="248.90" y="439.64" width="31.77" height="8.30" fill="#ff290d"/>
<rect x="279.67" y="439.64" width="31.77" height="8.30" fill="#8e5eff"/>
<rect x="310.44" y="439.64" width="30.77" height="8.30" fill="#ccafff"/>
<rect x="41.80" y="446.94" width="31.77" height="8.30" fill="#ff5030"/>
<rect x="72.57" y="446.94" width="31.77" height="8.30" fill="#382df6"/>
<rect x="103.34" y="446.94" width="30.77" height="8.30" fill="#ffe1d8"/>
<rect x="145.40" y="446.94" width="31.77" height="8.30" fill="#ff9171"/>
<rect x="176.17" y="446.94" width="31.77" height="8.30" fill="#0a28fc"/>
<rect x="206.94" y="446.94" width="30.77" height="8.30" fill="#ff9b7e"/>
<rect x="248.90" y="446.94" width="31.77" height="8.30" fill="#ff4525"/>
<rect x="279.67" y="446.94" width="31.77" height="8.30" fill="#4b31f8"/>
<rect x="310.44" y="446.94" width="30.77" height="8.30" fill="#faece9"/>
<rect x="41.80" y="454.24" width="31.77" height="8.30" fill="#ff270b"/>
<rect x="72.57" y="454.24" width="31.77" height="8.30" fill="#c19eff"/>
<rect x="103.34" y="454.24" width="30.77" height="8.30" fill="#9869ff"/>
<rect x="145.40" y="454.24" width="31.77" height="8.30" fill="#ff270b"/>
<rect x="176.17" y="454.24" width="31.77" height="8.30" fill="#c19eff"/>
<rect x="206.94" y="454.24" width="30.77" height="8.30" fill="#9869ff"/>
<rect x="248.90" y="454.24" width="31.77" height="8.30" fill="#ff260a"/>
<rect x="279.67" y="454.24" width="31.77" height="8.30" fill="#b085ff"/>
<rect x="310.44" y="454.24" width="30.77" height="8.30" fill="#a779ff"/>
<rect x="41.80" y="461.54" width="31.77" height="8.30" fill="#ff4525"/>
<rect x="72.57" y="461.54" width="31.77" height="8.30" fill="#4b31f8"/>
<rect x="103.34" y="461.54" width="30.77" height="8.30" fill="#faece9"/>
<rect x="145.40" y="461.54" width="31.77" height="8.30" fill="#ff2a0e"/>
<rect x="176.17" y="461.54" width="31.77" height="8.30" fill="#cfb4ff"/>
<rect x="206.94" y="461.54" width="30.77" height="8.30" fill="#8a5aff"/>
<rect x="248.90" y="461.54" width="31.77" height="8.30" fill="#ff3215"/>
<rect x="279.67" y="461.54" width="31.77" height="8.30" fill="#7141ff"/>
<rect x="310.44" y="461.54" width="30.77" height="8.30" fill="#e2d3fe"/>
<rect x="41.80" y="468.83" width="31.77" height="8.30" fill="#ff290d"/>
<rect x="72.57" y="468.83" width="31.77" height="8.30" fill="#8e5eff"/>
<rect x="103.34" y="468.83" width="30.77" height="8.30" fill="#ccafff"/>
<rect x="145.40" y="468.83" width="31.77" height="8.30" fill="#ff290d"/>
<rect x="176.17" y="468.83" width="31.77" height="8.30" fill="#8e5eff"/>
<rect x="206.94" y="468.83" width="30.77" height="8.30" fill="#ccafff"/>
<rect x="248.90" y="468.83" width="31.77" height="8.30" fill="#ff2f13"/>
<rect x="279.67" y="468.83" width="31.77" height="8.30" fill="#7848ff"/>
<rect x="310.44" y="468.83" width="30.77" height="8.30" fill="#dccaff"/>
<rect x="41.80" y="476.13" width="31.77" height="8.30" fill="#ff3316"/>
<rect x="72.57" y="476.13" width="31.77" height="8.30" fill="#6e3fff"/>
<rect x="103.34" y="476.13" width="30.77" height="8.30" fill="#e5d7fd"/>
<rect x="145.40" y="476.13" width="31.77" height="8.30" fill="#ff270b"/>
<rect x="176.17" y="476.13" width="31.77" height="8.30" fill="#b891ff"/>
<rect x="206.94" y="476.13" width="30.77" height="8.30" fill="#9f71ff"/>
<rect x="248.90" y="476.13" width="31.77" height="8.30" fill="#ff5737"/>
<rect x="279.67" y="476.13" width="31.77" height="8.30" fill="#2d2cf7"/>
<rect x="310.44" y="476.13" width="30.77" height="8.30" fill="#ffd8cc"/>
<rect x="41.80" y="483.43" width="31.77" height="8.30" fill="#ff260a"/>
<rect x="72.57" y="483.43" width="31.77" height="8.30" fill="#ac7fff"/>
<rect x="103.34" y="483.43" width="30.77" height="8.30" fill="#ac7fff"/>
<rect x="145.40" y="483.43" width="31.77" height="8.30" fill="#ff290d"/>
<rect x="176.17" y="483.43" width="31.77" height="8.30" fill="#9162ff"/>
<rect x="206.94" y="483.43" width="30.77" height="8.30" fill="#c9a9ff"/>
<rect x="248.90" y="483.43" width="31.77" height="8.30" fill="#ff3014"/>
<rect x="279.67" y="483.43" width="31.77" height="8.30" fill="#dfceff"/>
<rect x="310.44" y="483.43" width="30.77" height="8.30" fill="#7545ff"/>
<rect x="41.80" y="490.73" width="31.77" height="8.30" fill="#ff2d11"/>
<rect x="72.57" y="490.73" width="31.77" height="8.30" fill="#8151ff"/>
<rect x="103.34" y="490.73" width="30.77" height="8.30" fill="#d6c0ff"/>
<rect x="145.40" y="490.73" width="31.77" height="8.30" fill="#ff290d"/>
<rect x="176.17" y="490.73" width="31.77" height="8.30" fill="#9162ff"/>
<rect x="206.94" y="490.73" width="30.77" height="8.30" fill="#c9a9ff"/>
<rect x="248.90" y="490.73" width="31.77" height="8.30" fill="#ff2d11"/>
<rect x="279.67" y="490.73" width="31.77" height="8.30" fill="#8151ff"/>
<rect x="310.44" y="490.73" width="30.77" height="8.30" fill="#d6c0ff"/>
<rect x="41.80" y="498.03" width="31.77" height="8.30" fill="#ff2d11"/>
<rect x="72.57" y="498.03" width="31.77" height="8.30" fill="#8151ff"/>
<rect x="103.34" y="498.03" width="30.77" height="8.30" fill="#d6c0ff"/>
<rect x="145.40" y="498.03" width="31.77" height="8.30" fill="#ff290d"/>
<rect x="176.17" y="498.03" width="31.77" height="8.30" fill="#9162ff"/>
<rect x="206.94" y="498.03" width="30.77" height="8.30" fill="#c9a9ff"/>
<rect x="248.90" y="498.03" width="31.77" height="8.30" fill="#ff3518"/>
<rect x="279.67" y="498.03" width="31.77" height="8.30" fill="#693dfe"/>
<rect x="310.44" y="498.03" width="30.77" height="8.30" fill="#e8dcfc"/>
<rect x="41.80" y="505.32" width="31.77" height="8.30" fill="#ff270b"/>
<rect x="72.57" y="505.32" width="31.77" height="8.30" fill="#9869ff"/>
<rect x="103.34" y="505.32" width="30.77" height="8.30" fill="#c19eff"/>
<rect x="145.40" y="505.32" width="31.77" height="8.30" fill="#ff290d"/>
<rect x="176.17" y="505.32" width="31.77" height="8.30" fill="#9162ff"/>
<rect x="206.94" y="505.32" width="30.77" height="8.30" fill="#c9a9ff"/>
<rect x="248.90" y="505.32" width="31.77" height="8.30" fill="#ff290d"/>
<rect x="279.67" y="505.32" width="31.77" height="8.30" fill="#9162ff"/>
<rect x="310.44" y="505.32" width="30.77" height="8.30" fill="#c9a9ff"/>
<rect x="41.80" y="512.62" width="31.77" height="8.30" fill="#ff290d"/>
<rect x="72.57" y="512.62" width="31.77" height="8.30" fill="#9162ff"/>
<rect x="103.34" y="512.62" width="30.77" height="8.30" fill="#c9a9ff"/>
<rect x="145.40" y="512.62" width="31.77" height="8.30" fill="#ff3316"/>
<rect x="176.17" y="512.62" width="31.77" height="8.30" fill="#e5d7fd"/>
<rect x="206.94" y="512.62" width="30.77" height="8.30" fill="#6e3fff"/>
<rect x="248.90" y="512.62" width="31.77" height="8.30" fill="#ff8262"/>
<rect x="279.67" y="512.62" width="31.77" height="8.30" fill="#0d28fc"/>
<rect x="310.44" y="512.62" width="30.77" height="8.30" fill="#ffaa91"/>
<rect x="41.80" y="519.92" width="31.77" height="8.30" fill="#ff2d11"/>
<rect x="72.57" y="519.92" width="31.77" height="8.30" fill="#8151ff"/>
<rect x="103.34" y="519.92" width="30.77" height="8.30" fill="#d6c0ff"/>
<rect x="145.40" y="519.92" width="31.77" height="8.30" fill="#ff260a"/>
<rect x="176.17" y="519.92" width="31.77" height="8.30" fill="#a779ff"/>
<rect x="206.94" y="519.92" width="30.77" height="8.30" fill="#b085ff"/>
<rect x="248.90" y="519.92" width="31.77" height="8.30" fill="#ff3a1b"/>
<rect x="279.67" y="519.92" width="31.77" height="8.30" fill="#6138fc"/>
<rect x="310.44" y="519.92" width="30.77" height="8.30" fill="#efe6f8"/>
<rect x="41.80" y="527.22" width="31.77" height="8.30" fill="#ff2d11"/>
<rect x="72.57" y="527.22" width="31.77" height="8.30" fill="#8151ff"/>
<rect x="103.34" y="527.22" width="30.77" height="8.30" fill="#d6c0ff"/>
<rect x="145.40" y="527.22" width="31.77" height="8.30" fill="#ff270b"/>
<rect x="176.17" y="527.22" width="31.77" height="8.30" fill="#9f71ff"/>
<rect x="206.94" y="527.22" width="30.77" height="8.30" fill="#b891ff"/>
<rect x="248.90" y="527.22" width="31.77" height="8.30" fill="#ff2f13"/>
<rect x="279.67" y="527.22" width="31.77" height="8.30" fill="#7848ff"/>
<rect x="310.44" y="527.22" width="30.77" height="8.30" fill="#dccaff"/>
<rect x="41.80" y="534.52" width="31.77" height="8.30" fill="#ff8262"/>
<rect x="72.57" y="534.52" width="31.77" height="8.30" fill="#0d28fc"/>
<rect x="103.34" y="534.52" width="30.77" height="8.30" fill="#ffaa91"/>
<rect x="145.40" y="534.52" width="31.77" height="8.30" fill="#ff2d11"/>
<rect x="176.17" y="534.52" width="31.77" height="8.30" fill="#7d4dff"/>
<rect x="206.94" y="534.52" width="30.77" height="8.30" fill="#d9c4ff"/>
<rect x="248.90" y="534.52" width="31.77" height="8.30" fill="#ff4323"/>
<rect x="279.67" y="534.52" width="31.77" height="8.30" fill="#5032f9"/>
<rect x="310.44" y="534.52" width="30.77" height="8.30" fill="#f8eeed"/>
<rect x="41.80" y="541.81" width="31.77" height="8.30" fill="#ff3316"/>
<rect x="72.57" y="541.81" width="31.77" height="8.30" fill="#6e3fff"/>
<rect x="103.34" y="541.81" width="30.77" height="8.30" fill="#e5d7fd"/>
<rect x="145.40" y="541.81" width="31.77" height="8.30" fill="#ff2f13"/>
<rect x="176.17" y="541.81" width="31.77" height="8.30" fill="#7848ff"/>
<rect x="206.94" y="541.81" width="30.77" height="8.30" fill="#dccaff"/>
<rect x="248.90" y="541.81" width="31.77" height="8.30" fill="#ff4323"/>
<rect x="279.67" y="541.81" width="31.77" height="8.30" fill="#5032f9"/>
<rect x="310.44" y="541.81" width="30.77" height="8.30" fill="#f8eeed"/>
<rect x="41.80" y="549.11" width="31.77" height="8.30" fill="#ff2d11"/>
<rect x="72.57" y="549.11" width="31.77" height="8.30" fill="#7d4dff"/>
<rect x="103.34" y="549.11" width="30.77" height="8.30" fill="#d9c4ff"/>
<rect x="145.40" y="549.11" width="31.77" height="8.30" fill="#ff3a1b"/>
<rect x="176.17" y="549.11" width="31.77" height="8.30" fill="#6138fc"/>
<rect x="206.94" y="549.11" width="30.77" height="8.30" fill="#efe6f8"/>
<rect x="248.90" y="549.11" width="31.77" height="8.30" fill="#ffb9a1"/>
<rect x="279.67" y="549.11" width="31.77" height="8.30" fill="#1329fb"/>
<rect x="310.44" y="549.11" width="30.77" height="8.30" fill="#ff7656"/>
<rect x="41.80" y="556.41" width="31.77" height="8.30" fill="#ff7a5a"/>
<rect x="72.57" y="556.41" width="31.77" height="8.30" fill="#1029fb"/>
<rect x="103.34" y="556.41" width="30.77" height="8.30" fill="#ffb39b"/>
<rect x="145.40" y="556.41" width="31.77" height="8.30" fill="#ff2f13"/>
<rect x="176.17" y="556.41" width="31.77" height="8.30" fill="#7848ff"/>
<rect x="206.94" y="556.41" width="30.77" height="8.30" fill="#dccaff"/>
<rect x="248.90" y="556.41" width="31.77" height="8.30" fill="#ff4929"/>
<rect x="279.67" y="556.41" width="31.77" height="8.30" fill="#442ff6"/>
<rect x="310.44" y="556.41" width="30.77" height="8.30" fill="#fdeae4"/>
<rect x="41.80" y="563.71" width="31.77" height="8.30" fill="#ff270b"/>
<rect x="72.57" y="563.71" width="31.77" height="8.30" fill="#c19eff"/>
<rect x="103.34" y="563.71" width="30.77" height="8.30" fill="#9869ff"/>
<rect x="145.40" y="563.71" width="31.77" height="8.30" fill="#ff270b"/>
<rect x="176.17" y="563.71" width="31.77" height="8.30" fill="#b891ff"/>
<rect x="206.94" y="563.71" width="30.77" height="8.30" fill="#9f71ff"/>
<rect x="248.90" y="563.71" width="31.77" height="8.30" fill="#ff270b"/>
<rect x="279.67" y="563.71" width="31.77" height="8.30" fill="#9f71ff"/>
<rect x="310.44" y="563.71" width="30.77" height="8.30" fill="#b891ff"/>
<rect x="41.80" y="571.01" width="31.77" height="8.30" fill="#ff270b"/>
<rect x="72.57" y="571.01" width="31.77" height="8.30" fill="#b891ff"/>
<rect x="103.34" y="571.01" width="30.77" height="8.30" fill="#9f71ff"/>
<rect x="145.40" y="571.01" width="31.77" height="8.30" fill="#ff9171"/>
<rect x="176.17" y="571.01" width="31.77" height="8.30" fill="#ff9b7e"/>
<rect x="206.94" y="571.01" width="30.77" height="8.30" fill="#0a28fc"/>
<rect x="248.90" y="571.01" width="31.77" height="8.30" fill="#ff2d11"/>
<rect x="279.67" y="571.01" width="31.77" height="8.30" fill="#8151ff"/>
<rect x="310.44" y="571.01" width="30.77" height="8.30" fill="#d6c0ff"/>
<rect x="41.80" y="578.30" width="31.77" height="8.30" fill="#ff7a5a"/>
<rect x="72.57" y="578.30" width="31.77" height="8.30" fill="#1029fb"/>
<rect x="103.34" y="578.30" width="30.77" height="8.30" fill="#ffb39b"/>
<rect x="145.40" y="578.30" width="31.77" height="8.30" fill="#ff2d11"/>
<rect x="176.17" y="578.30" width="31.77" height="8.30" fill="#8151ff"/>
<rect x="206.94" y="578.30" width="30.77" height="8.30" fill="#d6c0ff"/>
<rect x="248.90" y="578.30" width="31.77" height="8.30" fill="#ff4929"/>
<rect x="279.67" y="578.30" width="31.77" height="8.30" fill="#442ff6"/>
<rect x="310.44" y="578.30" width="30.77" height="8.30" fill="#fdeae4"/>
<rect x="41.80" y="585.60" width="31.77" height="8.30" fill="#ff270b"/>
<rect x="72.57" y="585.60" width="31.77" height="8.30" fill="#9869ff"/>
<rect x="103.34" y="585.60" width="30.77" height="8.30" fill="#c19eff"/>
<rect x="145.40" y="585.60" width="31.77" height="8.30" fill="#ff270b"/>
<rect x="176.17" y="585.60" width="31.77" height="8.30" fill="#9869ff"/>
<rect x="206.94" y="585.60" width="30.77" height="8.30" fill="#c19eff"/>
<rect x="248.90" y="585.60" width="31.77" height="8.30" fill="#ff260a"/>
<rect x="279.67" y="585.60" width="31.77" height="8.30" fill="#ac7fff"/>
<rect x="310.44" y="585.60" width="30.77" height="8.30" fill="#ac7fff"/>
<rect x="41.80" y="592.90" width="31.77" height="8.30" fill="#ff5f3f"/>
<rect x="72.57" y="592.90" width="31.77" height="8.30" fill="#252bf8"/>
<rect x="103.34" y="592.90" width="30.77" height="8.30" fill="#ffd0c2"/>
<rect x="145.40" y="592.90" width="31.77" height="8.30" fill="#ff260a"/>
<rect x="176.17" y="592.90" width="31.77" height="8.30" fill="#a375ff"/>
<rect x="206.94" y="592.90" width="30.77" height="8.30" fill="#b48bff"/>
<rect x="248.90" y="592.90" width="31.77" height="8.30" fill="#ff260a"/>
<rect x="279.67" y="592.90" width="31.77" height="8.30" fill="#b48bff"/>
<rect x="310.44" y="592.90" width="30.77" height="8.30" fill="#a375ff"/>
<rect x="41.80" y="600.20" width="31.77" height="8.30" fill="#ff270b"/>
<rect x="72.57" y="600.20" width="31.77" height="8.30" fill="#9869ff"/>
<rect x="103.34" y="600.20" width="30.77" height="8.30" fill="#c19eff"/>
<rect x="145.40" y="600.20" width="31.77" height="8.30" fill="#ff260a"/>
<rect x="176.17" y="600.20" width="31.77" height="8.30" fill="#a375ff"/>
<rect x="206.94" y="600.20" width="30.77" height="8.30" fill="#b48bff"/>
<rect x="248.90" y="600.20" width="31.77" height="8.30" fill="#ff260a"/>
<rect x="279.67" y="600.20" width="31.77" height="8.30" fill="#b48bff"/>
<rect x="310.44" y="600.20" width="30.77" height="8.30" fill="#a375ff"/>
<rect x="41.80" y="607.50" width="31.77" height="8.30" fill="#ff4020"/>
<rect x="72.57" y="607.50" width="31.77" height="8.30" fill="#5834fa"/>
<rect x="103.34" y="607.50" width="30.77" height="8.30" fill="#f5f0f2"/>
<rect x="145.40" y="607.50" width="31.77" height="8.30" fill="#ff290d"/>
<rect x="176.17" y="607.50" width="31.77" height="8.30" fill="#8e5eff"/>
<rect x="206.94" y="607.50" width="30.77" height="8.30" fill="#ccafff"/>
<rect x="248.90" y="607.50" width="31.77" height="8.30" fill="#ff3215"/>
<rect x="279.67" y="607.50" width="31.77" height="8.30" fill="#7141ff"/>
<rect x="310.44" y="607.50" width="30.77" height="8.30" fill="#e2d3fe"/>
<rect x="41.80" y="614.79" width="31.77" height="8.30" fill="#ff2f13"/>
<rect x="72.57" y="614.79" width="31.77" height="8.30" fill="#7848ff"/>
<rect x="103.34" y="614.79" width="30.77" height="8.30" fill="#dccaff"/>
<rect x="145.40" y="614.79" width="31.77" height="8.30" fill="#ff290d"/>
<rect x="176.17" y="614.79" width="31.77" height="8.30" fill="#8e5eff"/>
<rect x="206.94" y="614.79" width="30.77" height="8.30" fill="#ccafff"/>
<rect x="248.90" y="614.79" width="31.77" height="8.30" fill="#ff2d11"/>
<rect x="279.67" y="614.79" width="31.77" height="8.30" fill="#8151ff"/>
<rect x="310.44" y="614.79" width="30.77" height="8.30" fill="#d6c0ff"/>
<rect x="41.80" y="622.09" width="31.77" height="8.30" fill="#ff7f5f"/>
<rect x="72.57" y="622.09" width="31.77" height="8.30" fill="#0e29fb"/>
<rect x="103.34" y="622.09" width="30.77" height="8.30" fill="#ffae95"/>
<rect x="145.40" y="622.09" width="31.77" height="8.30" fill="#ff2d11"/>
<rect x="176.17" y="622.09" width="31.77" height="8.30" fill="#8151ff"/>
<rect x="206.94" y="622.09" width="30.77" height="8.30" fill="#d6c0ff"/>
<rect x="248.90" y="622.09" width="31.77" height="8.30" fill="#ff5030"/>
<rect x="279.67" y="622.09" width="31.77" height="8.30" fill="#382df6"/>
<rect x="310.44" y="622.09" width="30.77" height="8.30" fill="#ffe1d8"/>
<rect x="41.80" y="629.39" width="31.77" height="8.30" fill="#ff290d"/>
<rect x="72.57" y="629.39" width="31.77" height="8.30" fill="#9162ff"/>
<rect x="103.34" y="629.39" width="30.77" height="8.30" fill="#c9a9ff"/>
<rect x="145.40" y="629.39" width="31.77" height="8.30" fill="#ff270b"/>
<rect x="176.17" y="629.39" width="31.77" height="8.30" fill="#9869ff"/>
<rect x="206.94" y="629.39" width="30.77" height="8.30" fill="#c19eff"/>
<rect x="248.90" y="629.39" width="31.77" height="8.30" fill="#ff5737"/>
<rect x="279.67" y="629.39" width="31.77" height="8.30" fill="#ffd8cc"/>
<rect x="310.44" y="629.39" width="30.77" height="8.30" fill="#2d2cf7"/>
<rect x="41.80" y="636.69" width="31.77" height="8.30" fill="#ff2a0e"/>
<rect x="72.57" y="636.69" width="31.77" height="8.30" fill="#8a5aff"/>
<rect x="103.34" y="636.69" width="30.77" height="8.30" fill="#cfb4ff"/>
<rect x="145.40" y="636.69" width="31.77" height="8.30" fill="#ff270b"/>
<rect x="176.17" y="636.69" width="31.77" height="8.30" fill="#c19eff"/>
<rect x="206.94" y="636.69" width="30.77" height="8.30" fill="#9869ff"/>
<rect x="248.90" y="636.69" width="31.77" height="8.30" fill="#ff260a"/>
<rect x="279.67" y="636.69" width="31.77" height="8.30" fill="#a375ff"/>
<rect x="310.44" y="636.69" width="30.77" height="8.30" fill="#b48bff"/>
<rect x="41.80" y="643.99" width="31.77" height="8.30" fill="#ff2f13"/>
<rect x="72.57" y="643.99" width="31.77" height="8.30" fill="#7848ff"/>
<rect x="103.34" y="643.99" width="30.77" height="8.30" fill="#dccaff"/>
<rect x="145.40" y="643.99" width="31.77" height="8.30" fill="#ff260a"/>
<rect x="176.17" y="643.99" width="31.77" height="8.30" fill="#a375ff"/>
<rect x="206.94" y="643.99" width="30.77" height="8.30" fill="#b48bff"/>
<rect x="248.90" y="643.99" width="31.77" height="8.30" fill="#ff270b"/>
<rect x="279.67" y="643.99" width="31.77" height="8.30" fill="#b891ff"/>
<rect x="310.44" y="643.99" width="30.77" height="8.30" fill="#9f71ff"/>
<rect x="41.80" y="651.28" width="31.77" height="8.30" fill="#ff2e12"/>
<rect x="72.57" y="651.28" width="31.77" height="8.30" fill="#7c4cff"/>
<rect x="103.34" y="651.28" width="30.77" height="8.30" fill="#dac6ff"/>
<rect x="145.40" y="651.28" width="31.77" height="8.30" fill="#ff290d"/>
<rect x="176.17" y="651.28" width="31.77" height="8.30" fill="#8e5eff"/>
<rect x="206.94" y="651.28" width="30.77" height="8.30" fill="#ccafff"/>
<rect x="248.90" y="651.28" width="31.77" height="8.30" fill="#ff2f13"/>
<rect x="279.67" y="651.28" width="31.77" height="8.30" fill="#7848ff"/>
<rect x="310.44" y="651.28" width="30.77" height="8.30" fill="#dccaff"/>
<rect x="41.80" y="658.58" width="31.77" height="8.30" fill="#ff5737"/>
<rect x="72.57" y="658.58" width="31.77" height="8.30" fill="#2d2cf7"/>
<rect x="103.34" y="658.58" width="30.77" height="8.30" fill="#ffd8cc"/>
<rect x="145.40" y="658.58" width="31.77" height="8.30" fill="#ff7a5a"/>
<rect x="176.17" y="658.58" width="31.77" height="8.30" fill="#1029fb"/>
<rect x="206.94" y="658.58" width="30.77" height="8.30" fill="#ffb39b"/>
<rect x="248.90" y="658.58" width="31.77" height="8.30" fill="#ff5535"/>
<rect x="279.67" y="658.58" width="31.77" height="8.30" fill="#302cf7"/>
<rect x="310.44" y="658.58" width="30.77" height="8.30" fill="#ffdbd0"/>
<rect x="41.80" y="665.88" width="31.77" height="8.30" fill="#ff270b"/>
<rect x="72.57" y="665.88" width="31.77" height="8.30" fill="#c19eff"/>
<rect x="103.34" y="665.88" width="30.77" height="8.30" fill="#9869ff"/>
<rect x="145.40" y="665.88" width="31.77" height="8.30" fill="#ff260a"/>
<rect x="176.17" y="665.88" width="31.77" height="8.30" fill="#a375ff"/>
<rect x="206.94" y="665.88" width="30.77" height="8.30" fill="#b48bff"/>
<rect x="248.90" y="665.88" width="31.77" height="8.30" fill="#ff290d"/>
<rect x="279.67" y="665.88" width="31.77" height="8.30" fill="#ccafff"/>
<rect x="310.44" y="665.88" width="30.77" height="8.30" fill="#8e5eff"/>
<rect x="41.80" y="673.18" width="31.77" height="8.30" fill="#ff270b"/>
<rect x="72.57" y="673.18" width="31.77" height="8.30" fill="#9869ff"/>
<rect x="103.34" y="673.18" width="30.77" height="8.30" fill="#c19eff"/>
<rect x="145.40" y="673.18" width="31.77" height="8.30" fill="#ff290d"/>
<rect x="176.17" y="673.18" width="31.77" height="8.30" fill="#8e5eff"/>
<rect x="206.94" y="673.18" width="30.77" height="8.30" fill="#ccafff"/>
<rect x="248.90" y="673.18" width="31.77" height="8.30" fill="#ff2f13"/>
<rect x="279.67" y="673.18" width="31.77" height="8.30" fill="#7848ff"/>
<rect x="310.44" y="673.18" width="30.77" height="8.30" fill="#dccaff"/>
<rect x="41.80" y="680.48" width="31.77" height="8.30" fill="#ff3316"/>
<rect x="72.57" y="680.48" width="31.77" height="8.30" fill="#6e3fff"/>
<rect x="103.34" y="680.48" width="30.77" height="8.30" fill="#e5d7fd"/>
<rect x="145.40" y="680.48" width="31.77" height="8.30" fill="#ff270b"/>
<rect x="176.17" y="680.48" width="31.77" height="8.30" fill="#9869ff"/>
<rect x="206.94" y="680.48" width="30.77" height="8.30" fill="#c19eff"/>
<rect x="248.90" y="680.48" width="31.77" height="8.30" fill="#ff2d11"/>
<rect x="279.67" y="680.48" width="31.77" height="8.30" fill="#8151ff"/>
<rect x="310.44" y="680.48" width="30.77" height="8.30" fill="#d6c0ff"/>
<rect x="41.80" y="687.77" width="31.77" height="8.30" fill="#ff3719"/>
<rect x="72.57" y="687.77" width="31.77" height="8.30" fill="#663bfd"/>
<rect x="103.34" y="687.77" width="30.77" height="8.30" fill="#ebe0fb"/>
<rect x="145.40" y="687.77" width="31.77" height="8.30" fill="#ffa58b"/>
<rect x="176.17" y="687.77" width="31.77" height="8.30" fill="#0c28fc"/>
<rect x="206.94" y="687.77" width="30.77" height="8.30" fill="#ff8767"/>
<rect x="248.90" y="687.77" width="31.77" height="8.30" fill="#ff3a1b"/>
<rect x="279.67" y="687.77" width="31.77" height="8.30" fill="#6138fc"/>
<rect x="310.44" y="687.77" width="30.77" height="8.30" fill="#efe6f8"/>
<rect x="41.80" y="695.07" width="31.77" height="7.30" fill="#ff3719"/>
<rect x="72.57" y="695.07" width="31.77" height="7.30" fill="#663bfd"/>
<rect x="103.34" y="695.07" width="30.77" height="7.30" fill="#ebe0fb"/>
<rect x="145.40" y="695.07" width="31.77" height="7.30" fill="#ff290d"/>
<rect x="176.17" y="695.07" width="31.77" height="7.30" fill="#8e5eff"/>
<rect x="206.94" y="695.07" width="30.77" height="7.30" fill="#ccafff"/>
<rect x="248.90" y="695.07" width="31.77" height="7.30" fill="#ff3a1b"/>
<rect x="279.67" y="695.07" width="31.77" height="7.30" fill="#6138fc"/>
<rect x="310.44" y="695.07" width="30.77" height="7.30" fill="#efe6f8"/>
<rect x="41.80" y="708.37" width="31.77" height="8.30" fill="#0a28fc"/>
<rect x="72.57" y="708.37" width="31.77" height="8.30" fill="#ff9171"/>
<rect x="103.34" y="708.37" width="30.77" height="8.30" fill="#ff9b7e"/>
<rect x="145.40" y="708.37" width="31.77" height="8.30" fill="#0c28fc"/>
<rect x="176.17" y="708.37" width="31.77" height="8.30" fill="#ffa58b"/>
<rect x="206.94" y="708.37" width="30.77" height="8.30" fill="#ff8767"/>
<rect x="248.90" y="708.37" width="31.77" height="8.30" fill="#0a28fc"/>
<rect x="279.67" y="708.37" width="31.77" height="8.30" fill="#ff9171"/>
<rect x="310.44" y="708.37" width="30.77" height="8.30" fill="#ff9b7e"/>
<rect x="41.80" y="715.67" width="31.77" height="8.30" fill="#1329fb"/>
<rect x="72.57" y="715.67" width="31.77" height="8.30" fill="#ff7656"/>
<rect x="103.34" y="715.67" width="30.77" height="8.30" fill="#ffb9a1"/>
<rect x="145.40" y="715.67" width="31.77" height="8.30" fill="#0a28fc"/>
<rect x="176.17" y="715.67" width="31.77" height="8.30" fill="#ff9171"/>
<rect x="206.94" y="715.67" width="30.77" height="8.30" fill="#ff9b7e"/>
<rect x="248.90" y="715.67" width="31.77" height="8.30" fill="#1329fb"/>
<rect x="279.67" y="715.67" width="31.77" height="8.30" fill="#ffb9a1"/>
<rect x="310.44" y="715.67" width="30.77" height="8.30" fill="#ff7656"/>
<rect x="41.80" y="722.97" width="31.77" height="8.30" fill="#1329fb"/>
<rect x="72.57" y="722.97" width="31.77" height="8.30" fill="#ffb9a1"/>
<rect x="103.34" y="722.97" width="30.77" height="8.30" fill="#ff7656"/>
<rect x="145.40" y="722.97" width="31.77" height="8.30" fill="#4b31f8"/>
<rect x="176.17" y="722.97" width="31.77" height="8.30" fill="#faece9"/>
<rect x="206.94" y="722.97" width="30.77" height="8.30" fill="#ff4525"/>
<rect x="248.90" y="722.97" width="31.77" height="8.30" fill="#1329fb"/>
<rect x="279.67" y="722.97" width="31.77" height="8.30" fill="#ffb9a1"/>
<rect x="310.44" y="722.97" width="30.77" height="8.30" fill="#ff7656"/>
<rect x="41.80" y="730.26" width="31.77" height="8.30" fill="#182afa"/>
<rect x="72.57" y="730.26" width="31.77" height="8.30" fill="#ffc0ad"/>
<rect x="103.34" y="730.26" width="30.77" height="8.30" fill="#ff6e4e"/>
<rect x="145.40" y="730.26" width="31.77" height="8.30" fill="#0e29fb"/>
<rect x="176.17" y="730.26" width="31.77" height="8.30" fill="#ffae95"/>
<rect x="206.94" y="730.26" width="30.77" height="8.30" fill="#ff7f5f"/>
<rect x="248.90" y="730.26" width="31.77" height="8.30" fill="#5834fa"/>
<rect x="279.67" y="730.26" width="31.77" height="8.30" fill="#f5f0f2"/>
<rect x="310.44" y="730.26" width="30.77" height="8.30" fill="#ff4020"/>
<rect x="41.80" y="737.56" width="31.77" height="8.30" fill="#202bf9"/>
<rect x="72.57" y="737.56" width="31.77" height="8.30" fill="#ff6343"/>
<rect x="103.34" y="737.56" width="30.77" height="8.30" fill="#ffcbbc"/>
<rect x="145.40" y="737.56" width="31.77" height="8.30" fill="#0e29fb"/>
<rect x="176.17" y="737.56" width="31.77" height="8.30" fill="#ff7f5f"/>
<rect x="206.94" y="737.56" width="30.77" height="8.30" fill="#ffae95"/>
<rect x="248.90" y="737.56" width="31.77" height="8.30" fill="#7d4dff"/>
<rect x="279.67" y="737.56" width="31.77" height="8.30" fill="#ff2d11"/>
<rect x="310.44" y="737.56" width="30.77" height="8.30" fill="#d9c4ff"/>
<rect x="41.80" y="744.86" width="31.77" height="8.30" fill="#262bf8"/>
<rect x="72.57" y="744.86" width="31.77" height="8.30" fill="#ff5d3d"/>
<rect x="103.34" y="744.86" width="30.77" height="8.30" fill="#ffd2c4"/>
<rect x="145.40" y="744.86" width="31.77" height="8.30" fill="#0c28fc"/>
<rect x="176.17" y="744.86" width="31.77" height="8.30" fill="#ff8767"/>
<rect x="206.94" y="744.86" width="30.77" height="8.30" fill="#ffa58b"/>
<rect x="248.90" y="744.86" width="31.77" height="8.30" fill="#9162ff"/>
<rect x="279.67" y="744.86" width="31.77" height="8.30" fill="#ff290d"/>
<rect x="310.44" y="744.86" width="30.77" height="8.30" fill="#c9a9ff"/>
<rect x="41.80" y="752.16" width="31.77" height="8.30" fill="#0e29fb"/>
<rect x="72.57" y="752.16" width="31.77" height="8.30" fill="#ffae95"/>
<rect x="103.34" y="752.16" width="30.77" height="8.30" fill="#ff7f5f"/>
<rect x="145.40" y="752.16" width="31.77" height="8.30" fill="#302cf7"/>
<rect x="176.17" y="752.16" width="31.77" height="8.30" fill="#ffdbd0"/>
<rect x="206.94" y="752.16" width="30.77" height="8.30" fill="#ff5535"/>
<rect x="248.90" y="752.16" width="31.77" height="8.30" fill="#ff5737"/>
<rect x="279.67" y="752.16" width="31.77" height="8.30" fill="#2d2cf7"/>
<rect x="310.44" y="752.16" width="30.77" height="8.30" fill="#ffd8cc"/>
<rect x="41.80" y="759.46" width="31.77" height="8.30" fill="#0e29fb"/>
<rect x="72.57" y="759.46" width="31.77" height="8.30" fill="#ff7f5f"/>
<rect x="103.34" y="759.46" width="30.77" height="8.30" fill="#ffae95"/>
<rect x="145.40" y="759.46" width="31.77" height="8.30" fill="#5834fa"/>
<rect x="176.17" y="759.46" width="31.77" height="8.30" fill="#ff4020"/>
<rect x="206.94" y="759.46" width="30.77" height="8.30" fill="#f5f0f2"/>
<rect x="248.90" y="759.46" width="31.77" height="8.30" fill="#3a2df6"/>
<rect x="279.67" y="759.46" width="31.77" height="8.30" fill="#ff4e2e"/>
<rect x="310.44" y="759.46" width="30.77" height="8.30" fill="#ffe3da"/>
<rect x="41.80" y="766.75" width="31.77" height="8.30" fill="#1329fb"/>
<rect x="72.57" y="766.75" width="31.77" height="8.30" fill="#ffb9a1"/>
<rect x="103.34" y="766.75" width="30.77" height="8.30" fill="#ff7656"/>
<rect x="145.40" y="766.75" width="31.77" height="8.30" fill="#1329fb"/>
<rect x="176.17" y="766.75" width="31.77" height="8.30" fill="#ffb9a1"/>
<rect x="206.94" y="766.75" width="30.77" height="8.30" fill="#ff7656"/>
<rect x="248.90" y="766.75" width="31.77" height="8.30" fill="#1c2afa"/>
<rect x="279.67" y="766.75" width="31.77" height="8.30" fill="#ff6848"/>
<rect x="310.44" y="766.75" width="30.77" height="8.30" fill="#ffc7b6"/>
<rect x="41.80" y="774.05" width="31.77" height="8.30" fill="#0c28fc"/>
<rect x="72.57" y="774.05" width="31.77" height="8.30" fill="#ff8767"/>
<rect x="103.34" y="774.05" width="30.77" height="8.30" fill="#ffa58b"/>
<rect x="145.40" y="774.05" width="31.77" height="8.30" fill="#1329fb"/>
<rect x="176.17" y="774.05" width="31.77" height="8.30" fill="#ffb9a1"/>
<rect x="206.94" y="774.05" width="30.77" height="8.30" fill="#ff7656"/>
<rect x="248.90" y="774.05" width="31.77" height="8.30" fill="#252bf8"/>
<rect x="279.67" y="774.05" width="31.77" height="8.30" fill="#ff5f3f"/>
<rect x="310.44" y="774.05" width="30.77" height="8.30" fill="#ffd0c2"/>
<rect x="41.80" y="781.35" width="31.77" height="8.30" fill="#262bf8"/>
<rect x="72.57" y="781.35" width="31.77" height="8.30" fill="#ffd2c4"/>
<rect x="103.34" y="781.35" width="30.77" height="8.30" fill="#ff5d3d"/>
<rect x="145.40" y="781.35" width="31.77" height="8.30" fill="#ffcbbc"/>
<rect x="176.17" y="781.35" width="31.77" height="8.30" fill="#ff6343"/>
<rect x="206.94" y="781.35" width="30.77" height="8.30" fill="#202bf9"/>
<rect x="248.90" y="781.35" width="31.77" height="8.30" fill="#302cf7"/>
<rect x="279.67" y="781.35" width="31.77" height="8.30" fill="#ff5535"/>
<rect x="310.44" y="781.35" width="30.77" height="8.30" fill="#ffdbd0"/>
<rect x="41.80" y="788.65" width="31.77" height="8.30" fill="#0a28fc"/>
<rect x="72.57" y="788.65" width="31.77" height="8.30" fill="#ff9b7e"/>
<rect x="103.34" y="788.65" width="30.77" height="8.30" fill="#ff9171"/>
<rect x="145.40" y="788.65" width="31.77" height="8.30" fill="#202bf9"/>
<rect x="176.17" y="788.65" width="31.77" height="8.30" fill="#ff6343"/>
<rect x="206.94" y="788.65" width="30.77" height="8.30" fill="#ffcbbc"/>
<rect x="248.90" y="788.65" width="31.77" height="8.30" fill="#0d28fc"/>
<rect x="279.67" y="788.65" width="31.77" height="8.30" fill="#ff8262"/>
<rect x="310.44" y="788.65" width="30.77" height="8.30" fill="#ffaa91"/>
<rect x="41.80" y="795.95" width="31.77" height="8.30" fill="#0a28fc"/>
<rect x="72.57" y="795.95" width="31.77" height="8.30" fill="#ff9b7e"/>
<rect x="103.34" y="795.95" width="30.77" height="8.30" fill="#ff9171"/>
<rect x="145.40" y="795.95" width="31.77" height="8.30" fill="#182afa"/>
<rect x="176.17" y="795.95" width="31.77" height="8.30" fill="#ffc0ad"/>
<rect x="206.94" y="795.95" width="30.77" height="8.30" fill="#ff6e4e"/>
<rect x="248.90" y="795.95" width="31.77" height="8.30" fill="#1c2afa"/>
<rect x="279.67" y="795.95" width="31.77" height="8.30" fill="#ff6848"/>
<rect x="310.44" y="795.95" width="30.77" height="8.30" fill="#ffc7b6"/>
<rect x="41.80" y="803.24" width="31.77" height="8.30" fill="#5a35fb"/>
<rect x="72.57" y="803.24" width="31.77" height="8.30" fill="#f3edf4"/>
<rect x="103.34" y="803.24" width="30.77" height="8.30" fill="#ff3e1f"/>
<rect x="145.40" y="803.24" width="31.77" height="8.30" fill="#8a5aff"/>
<rect x="176.17" y="803.24" width="31.77" height="8.30" fill="#ff2a0e"/>
<rect x="206.94" y="803.24" width="30.77" height="8.30" fill="#cfb4ff"/>
<rect x="248.90" y="803.24" width="31.77" height="8.30" fill="#252bf8"/>
<rect x="279.67" y="803.24" width="31.77" height="8.30" fill="#ff5f3f"/>
<rect x="310.44" y="803.24" width="30.77" height="8.30" fill="#ffd0c2"/>
<rect x="41.80" y="810.54" width="31.77" height="8.30" fill="#0c28fc"/>
<rect x="72.57" y="810.54" width="31.77" height="8.30" fill="#ffa58b"/>
<rect x="103.34" y="810.54" width="30.77" height="8.30" fill="#ff8767"/>
<rect x="145.40" y="810.54" width="31.77" height="8.30" fill="#7848ff"/>
<rect x="176.17" y="810.54" width="31.77" height="8.30" fill="#ff2f13"/>
<rect x="206.94" y="810.54" width="30.77" height="8.30" fill="#dccaff"/>
<rect x="248.90" y="810.54" width="31.77" height="8.30" fill="#3a2df6"/>
<rect x="279.67" y="810.54" width="31.77" height="8.30" fill="#ff4e2e"/>
<rect x="310.44" y="810.54" width="30.77" height="8.30" fill="#ffe3da"/>
<rect x="41.80" y="817.84" width="31.77" height="8.30" fill="#0c28fc"/>
<rect x="72.57" y="817.84" width="31.77" height="8.30" fill="#ffa58b"/>
<rect x="103.34" y="817.84" width="30.77" height="8.30" fill="#ff8767"/>
<rect x="145.40" y="817.84" width="31.77" height="8.30" fill="#7848ff"/>
<rect x="176.17" y="817.84" width="31.77" height="8.30" fill="#ff2f13"/>
<rect x="206.94" y="817.84" width="30.77" height="8.30" fill="#dccaff"/>
<rect x="248.90" y="817.84" width="31.77" height="8.30" fill="#3a2df6"/>
<rect x="279.67" y="817.84" width="31.77" height="8.30" fill="#ff4e2e"/>
<rect x="310.44" y="817.84" width="30.77" height="8.30" fill="#ffe3da"/>
<rect x="41.80" y="825.14" width="31.77" height="8.30" fill="#0e29fb"/>
<rect x="72.57" y="825.14" width="31.77" height="8.30" fill="#ffae95"/>
<rect x="103.34" y="825.14" width="30.77" height="8.30" fill="#ff7f5f"/>
<rect x="145.40" y="825.14" width="31.77" height="8.30" fill="#302cf7"/>
<rect x="176.17" y="825.14" width="31.77" height="8.30" fill="#ffdbd0"/>
<rect x="206.94" y="825.14" width="30.77" height="8.30" fill="#ff5535"/>
<rect x="248.90" y="825.14" width="31.77" height="8.30" fill="#292cf8"/>
<rect x="279.67" y="825.14" width="31.77" height="8.30" fill="#ffd5c8"/>
<rect x="310.44" y="825.14" width="30.77" height="8.30" fill="#ff5a3a"/>
<rect x="41.80" y="832.44" width="31.77" height="8.30" fill="#302cf7"/>
<rect x="72.57" y="832.44" width="31.77" height="8.30" fill="#ffdbd0"/>
<rect x="103.34" y="832.44" width="30.77" height="8.30" fill="#ff5535"/>
<rect x="145.40" y="832.44" width="31.77" height="8.30" fill="#9869ff"/>
<rect x="176.17" y="832.44" width="31.77" height="8.30" fill="#ff270b"/>
<rect x="206.94" y="832.44" width="30.77" height="8.30" fill="#c19eff"/>
<rect x="248.90" y="832.44" width="31.77" height="8.30" fill="#ffae95"/>
<rect x="279.67" y="832.44" width="31.77" height="8.30" fill="#ff7f5f"/>
<rect x="310.44" y="832.44" width="30.77" height="8.30" fill="#0e29fb"/>
<rect x="41.80" y="839.73" width="31.77" height="8.30" fill="#0d28fc"/>
<rect x="72.57" y="839.73" width="31.77" height="8.30" fill="#ff8262"/>
<rect x="103.34" y="839.73" width="30.77" height="8.30" fill="#ffaa91"/>
<rect x="145.40" y="839.73" width="31.77" height="8.30" fill="#0a28fc"/>
<rect x="176.17" y="839.73" width="31.77" height="8.30" fill="#ff9b7e"/>
<rect x="206.94" y="839.73" width="30.77" height="8.30" fill="#ff9171"/>
<rect x="248.90" y="839.73" width="31.77" height="8.30" fill="#0e29fb"/>
<rect x="279.67" y="839.73" width="31.77" height="8.30" fill="#ff7f5f"/>
<rect x="310.44" y="839.73" width="30.77" height="8.30" fill="#ffae95"/>
<rect x="41.80" y="847.03" width="31.77" height="8.30" fill="#1029fb"/>
<rect x="72.57" y="847.03" width="31.77" height="8.30" fill="#ff7a5a"/>
<rect x="103.34" y="847.03" width="30.77" height="8.30" fill="#ffb39b"/>
<rect x="145.40" y="847.03" width="31.77" height="8.30" fill="#0a28fc"/>
<rect x="176.17" y="847.03" width="31.77" height="8.30" fill="#ff9171"/>
<rect x="206.94" y="847.03" width="30.77" height="8.30" fill="#ff9b7e"/>
<rect x="248.90" y="847.03" width="31.77" height="8.30" fill="#1329fb"/>
<rect x="279.67" y="847.03" width="31.77" height="8.30" fill="#ff7656"/>
<rect x="310.44" y="847.03" width="30.77" height="8.30" fill="#ffb9a1"/>
<rect x="41.80" y="854.33" width="31.77" height="8.30" fill="#1c2afa"/>
<rect x="72.57" y="854.33" width="31.77" height="8.30" fill="#ff6848"/>
<rect x="103.34" y="854.33" width="30.77" height="8.30" fill="#ffc7b6"/>
<rect x="145.40" y="854.33" width="31.77" height="8.30" fill="#0c28fc"/>
<rect x="176.17" y="854.33" width="31.77" height="8.30" fill="#ffa58b"/>
<rect x="206.94" y="854.33" width="30.77" height="8.30" fill="#ff8767"/>
<rect x="248.90" y="854.33" width="31.77" height="8.30" fill="#202bf9"/>
<rect x="279.67" y="854.33" width="31.77" height="8.30" fill="#ff6343"/>
<rect x="310.44" y="854.33" width="30.77" height="8.30" fill="#ffcbbc"/>
<rect x="41.80" y="861.63" width="31.77" height="8.30" fill="#0b28fc"/>
<rect x="72.57" y="861.63" width="31.77" height="8.30" fill="#ffa084"/>
<rect x="103.34" y="861.63" width="30.77" height="8.30" fill="#ff8c6c"/>
<rect x="145.40" y="861.63" width="31.77" height="8.30" fill="#0c28fc"/>
<rect x="176.17" y="861.63" width="31.77" height="8.30" fill="#ffa58b"/>
<rect x="206.94" y="861.63" width="30.77" height="8.30" fill="#ff8767"/>
<rect x="248.90" y="861.63" width="31.77" height="8.30" fill="#0c28fc"/>
<rect x="279.67" y="861.63" width="31.77" height="8.30" fill="#ffa58b"/>
<rect x="310.44" y="861.63" width="30.77" height="8.30" fill="#ff8767"/>
<rect x="41.80" y="868.93" width="31.77" height="8.30" fill="#0b28fc"/>
<rect x="72.57" y="868.93" width="31.77" height="8.30" fill="#ffa084"/>
<rect x="103.34" y="868.93" width="30.77" height="8.30" fill="#ff8c6c"/>
<rect x="145.40" y="868.93" width="31.77" height="8.30" fill="#0c28fc"/>
<rect x="176.17" y="868.93" width="31.77" height="8.30" fill="#ffa58b"/>
<rect x="206.94" y="868.93" width="30.77" height="8.30" fill="#ff8767"/>
<rect x="248.90" y="868.93" width="31.77" height="8.30" fill="#202bf9"/>
<rect x="279.67" y="868.93" width="31.77" height="8.30" fill="#ff6343"/>
<rect x="310.44" y="868.93" width="30.77" height="8.30" fill="#ffcbbc"/>
<rect x="41.80" y="876.22" width="31.77" height="8.30" fill="#0c28fc"/>
<rect x="72.57" y="876.22" width="31.77" height="8.30" fill="#ffa58b"/>
<rect x="103.34" y="876.22" width="30.77" height="8.30" fill="#ff8767"/>
<rect x="145.40" y="876.22" width="31.77" height="8.30" fill="#0e29fb"/>
<rect x="176.17" y="876.22" width="31.77" height="8.30" fill="#ffae95"/>
<rect x="206.94" y="876.22" width="30.77" height="8.30" fill="#ff7f5f"/>
<rect x="248.90" y="876.22" width="31.77" height="8.30" fill="#0c28fc"/>
<rect x="279.67" y="876.22" width="31.77" height="8.30" fill="#ffa58b"/>
<rect x="310.44" y="876.22" width="30.77" height="8.30" fill="#ff8767"/>
<rect x="41.80" y="883.52" width="31.77" height="8.30" fill="#1329fb"/>
<rect x="72.57" y="883.52" width="31.77" height="8.30" fill="#ffb9a1"/>
<rect x="103.34" y="883.52" width="30.77" height="8.30" fill="#ff7656"/>
<rect x="145.40" y="883.52" width="31.77" height="8.30" fill="#0a28fc"/>
<rect x="176.17" y="883.52" width="31.77" height="8.30" fill="#ff9171"/>
<rect x="206.94" y="883.52" width="30.77" height="8.30" fill="#ff9b7e"/>
<rect x="248.90" y="883.52" width="31.77" height="8.30" fill="#0c28fc"/>
<rect x="279.67" y="883.52" width="31.77" height="8.30" fill="#ffa58b"/>
<rect x="310.44" y="883.52" width="30.77" height="8.30" fill="#ff8767"/>
<rect x="41.80" y="890.82" width="31.77" height="8.30" fill="#182afa"/>
<rect x="72.57" y="890.82" width="31.77" height="8.30" fill="#ffc0ad"/>
<rect x="103.34" y="890.82" width="30.77" height="8.30" fill="#ff6e4e"/>
<rect x="145.40" y="890.82" width="31.77" height="8.30" fill="#182afa"/>
<rect x="176.17" y="890.82" width="31.77" height="8.30" fill="#ffc0ad"/>
<rect x="206.94" y="890.82" width="30.77" height="8.30" fill="#ff6e4e"/>
<rect x="248.90" y="890.82" width="31.77" height="8.30" fill="#182afa"/>
<rect x="279.67" y="890.82" width="31.77" height="8.30" fill="#ffc0ad"/>
<rect x="310.44" y="890.82" width="30.77" height="8.30" fill="#ff6e4e"/>
<rect x="41.80" y="898.12" width="31.77" height="8.30" fill="#1329fb"/>
<rect x="72.57" y="898.12" width="31.77" height="8.30" fill="#ffb9a1"/>
<rect x="103.34" y="898.12" width="30.77" height="8.30" fill="#ff7656"/>
<rect x="145.40" y="898.12" width="31.77" height="8.30" fill="#182afa"/>
<rect x="176.17" y="898.12" width="31.77" height="8.30" fill="#ffc0ad"/>
<rect x="206.94" y="898.12" width="30.77" height="8.30" fill="#ff6e4e"/>
<rect x="248.90" y="898.12" width="31.77" height="8.30" fill="#182afa"/>
<rect x="279.67" y="898.12" width="31.77" height="8.30" fill="#ffc0ad"/>
<rect x="310.44" y="898.12" width="30.77" height="8.30" fill="#ff6e4e"/>
<rect x="41.80" y="905.42" width="31.77" height="7.30" fill="#302cf7"/>
<rect x="72.57" y="905.42" width="31.77" height="7.30" fill="#ffdbd0"/>
<rect x="103.34" y="905.42" width="30.77" height="7.30" fill="#ff5535"/>
<rect x="145.40" y="905.42" width="31.77" height="7.30" fill="#0e29fb"/>
<rect x="176.17" y="905.42" width="31.77" height="7.30" fill="#ff7f5f"/>
<rect x="206.94" y="905.42" width="30.77" height="7.30" fill="#ffae95"/>
<rect x="248.90" y="905.42" width="31.77" height="7.30" fill="#ffd8cc"/>
<rect x="279.67" y="905.42" width="31.77" height="7.30" fill="#2d2cf7"/>
<rect x="310.44" y="905.42" width="30.77" height="7.30" fill="#ff5737"/>
<rect x="41.80" y="918.71" width="31.77" height="8.30" fill="#b085ff"/>
<rect x="72.57" y="918.71" width="31.77" height="8.30" fill="#ff260a"/>
<rect x="103.34" y="918.71" width="30.77" height="8.30" fill="#a779ff"/>
<rect x="145.40" y="918.71" width="31.77" height="8.30" fill="#ff5c3c"/>
<rect x="176.17" y="918.71" width="31.77" height="8.30" fill="#ffd3c6"/>
<rect x="206.94" y="918.71" width="30.77" height="8.30" fill="#282bf8"/>
<rect x="248.90" y="918.71" width="31.77" height="8.30" fill="#ffe3da"/>
<rect x="279.67" y="918.71" width="31.77" height="8.30" fill="#ff4e2e"/>
<rect x="310.44" y="918.71" width="30.77" height="8.30" fill="#3a2df6"/>
<rect x="41.80" y="926.01" width="31.77" height="8.30" fill="#5032f9"/>
<rect x="72.57" y="926.01" width="31.77" height="8.30" fill="#ff4323"/>
<rect x="103.34" y="926.01" width="30.77" height="8.30" fill="#f8eeed"/>
<rect x="145.40" y="926.01" width="31.77" height="8.30" fill="#8e5eff"/>
<rect x="176.17" y="926.01" width="31.77" height="8.30" fill="#ff290d"/>
<rect x="206.94" y="926.01" width="30.77" height="8.30" fill="#ccafff"/>
<rect x="248.90" y="926.01" width="31.77" height="8.30" fill="#9f71ff"/>
<rect x="279.67" y="926.01" width="31.77" height="8.30" fill="#ff270b"/>
<rect x="310.44" y="926.01" width="30.77" height="8.30" fill="#b891ff"/>
<rect x="41.80" y="933.31" width="31.77" height="8.30" fill="#5834fa"/>
<rect x="72.57" y="933.31" width="31.77" height="8.30" fill="#ff4020"/>
<rect x="103.34" y="933.31" width="30.77" height="8.30" fill="#f5f0f2"/>
<rect x="145.40" y="933.31" width="31.77" height="8.30" fill="#8151ff"/>
<rect x="176.17" y="933.31" width="31.77" height="8.30" fill="#ff2d11"/>
<rect x="206.94" y="933.31" width="30.77" height="8.30" fill="#d6c0ff"/>
<rect x="248.90" y="933.31" width="31.77" height="8.30" fill="#ac7fff"/>
<rect x="279.67" y="933.31" width="31.77" height="8.30" fill="#ff260a"/>
<rect x="310.44" y="933.31" width="30.77" height="8.30" fill="#ac7fff"/>
<rect x="41.80" y="940.61" width="31.77" height="8.30" fill="#302cf7"/>
<rect x="72.57" y="940.61" width="31.77" height="8.30" fill="#ff5535"/>
<rect x="103.34" y="940.61" width="30.77" height="8.30" fill="#ffdbd0"/>
<rect x="145.40" y="940.61" width="31.77" height="8.30" fill="#9162ff"/>
<rect x="176.17" y="940.61" width="31.77" height="8.30" fill="#ff290d"/>
<rect x="206.94" y="940.61" width="30.77" height="8.30" fill="#c9a9ff"/>
<rect x="248.90" y="940.61" width="31.77" height="8.30" fill="#ac7fff"/>
<rect x="279.67" y="940.61" width="31.77" height="8.30" fill="#ff260a"/>
<rect x="310.44" y="940.61" width="30.77" height="8.30" fill="#ac7fff"/>
<rect x="41.80" y="947.91" width="31.77" height="8.30" fill="#6138fc"/>
<rect x="72.57" y="947.91" width="31.77" height="8.30" fill="#ff3a1b"/>
<rect x="103.34" y="947.91" width="30.77" height="8.30" fill="#efe6f8"/>
<rect x="145.40" y="947.91" width="31.77" height="8.30" fill="#0e29fb"/>
<rect x="176.17" y="947.91" width="31.77" height="8.30" fill="#ffae95"/>
<rect x="206.94" y="947.91" width="30.77" height="8.30" fill="#ff7f5f"/>
<rect x="248.90" y="947.91" width="31.77" height="8.30" fill="#ffae95"/>
<rect x="279.67" y="947.91" width="31.77" height="8.30" fill="#0e29fb"/>
<rect x="310.44" y="947.91" width="30.77" height="8.30" fill="#ff7f5f"/>
<rect x="41.80" y="955.20" width="31.77" height="8.30" fill="#7848ff"/>
<rect x="72.57" y="955.20" width="31.77" height="8.30" fill="#ff2f13"/>
<rect x="103.34" y="955.20" width="30.77" height="8.30" fill="#dccaff"/>
<rect x="145.40" y="955.20" width="31.77" height="8.30" fill="#9869ff"/>
<rect x="176.17" y="955.20" width="31.77" height="8.30" fill="#ff270b"/>
<rect x="206.94" y="955.20" width="30.77" height="8.30" fill="#c19eff"/>
<rect x="248.90" y="955.20" width="31.77" height="8.30" fill="#0b28fc"/>
<rect x="279.67" y="955.20" width="31.77" height="8.30" fill="#ffa084"/>
<rect x="310.44" y="955.20" width="30.77" height="8.30" fill="#ff8c6c"/>
<rect x="41.80" y="962.50" width="31.77" height="8.30" fill="#6e3fff"/>
<rect x="72.57" y="962.50" width="31.77" height="8.30" fill="#ff3316"/>
<rect x="103.34" y="962.50" width="30.77" height="8.30" fill="#e5d7fd"/>
<rect x="145.40" y="962.50" width="31.77" height="8.30" fill="#182afa"/>
<rect x="176.17" y="962.50" width="31.77" height="8.30" fill="#ff6e4e"/>
<rect x="206.94" y="962.50" width="30.77" height="8.30" fill="#ffc0ad"/>
<rect x="248.90" y="962.50" width="31.77" height="8.30" fill="#0c28fc"/>
<rect x="279.67" y="962.50" width="31.77" height="8.30" fill="#ff8767"/>
<rect x="310.44" y="962.50" width="30.77" height="8.30" fill="#ffa58b"/>
<rect x="41.80" y="969.80" width="31.77" height="8.30" fill="#c19eff"/>
<rect x="72.57" y="969.80" width="31.77" height="8.30" fill="#ff270b"/>
<rect x="103.34" y="969.80" width="30.77" height="8.30" fill="#9869ff"/>
<rect x="145.40" y="969.80" width="31.77" height="8.30" fill="#ffae95"/>
<rect x="176.17" y="969.80" width="31.77" height="8.30" fill="#ff7f5f"/>
<rect x="206.94" y="969.80" width="30.77" height="8.30" fill="#0e29fb"/>
<rect x="248.90" y="969.80" width="31.77" height="8.30" fill="#ff7f5f"/>
<rect x="279.67" y="969.80" width="31.77" height="8.30" fill="#ffae95"/>
<rect x="310.44" y="969.80" width="30.77" height="8.30" fill="#0e29fb"/>
<rect x="41.80" y="977.10" width="31.77" height="8.30" fill="#693dfe"/>
<rect x="72.57" y="977.10" width="31.77" height="8.30" fill="#ff3518"/>
<rect x="103.34" y="977.10" width="30.77" height="8.30" fill="#e8dcfc"/>
<rect x="145.40" y="977.10" width="31.77" height="8.30" fill="#0e29fb"/>
<rect x="176.17" y="977.10" width="31.77" height="8.30" fill="#ffae95"/>
<rect x="206.94" y="977.10" width="30.77" height="8.30" fill="#ff7f5f"/>
<rect x="248.90" y="977.10" width="31.77" height="8.30" fill="#cfb4ff"/>
<rect x="279.67" y="977.10" width="31.77" height="8.30" fill="#ff2a0e"/>
<rect x="310.44" y="977.10" width="30.77" height="8.30" fill="#8a5aff"/>
<rect x="41.80" y="984.40" width="31.77" height="8.30" fill="#8e5eff"/>
<rect x="72.57" y="984.40" width="31.77" height="8.30" fill="#ff290d"/>
<rect x="103.34" y="984.40" width="30.77" height="8.30" fill="#ccafff"/>
<rect x="145.40" y="984.40" width="31.77" height="8.30" fill="#4b31f8"/>
<rect x="176.17" y="984.40" width="31.77" height="8.30" fill="#ff4525"/>
<rect x="206.94" y="984.40" width="30.77" height="8.30" fill="#faece9"/>
<rect x="248.90" y="984.40" width="31.77" height="8.30" fill="#efe6f8"/>
<rect x="279.67" y="984.40" width="31.77" height="8.30" fill="#ff3a1b"/>
<rect x="310.44" y="984.40" width="30.77" height="8.30" fill="#6138fc"/>
<rect x="41.80" y="991.69" width="31.77" height="8.30" fill="#5032f9"/>
<rect x="72.57" y="991.69" width="31.77" height="8.30" fill="#ff4323"/>
<rect x="103.34" y="991.69" width="30.77" height="8.30" fill="#f8eeed"/>
<rect x="145.40" y="991.69" width="31.77" height="8.30" fill="#1c2afa"/>
<rect x="176.17" y="991.69" width="31.77" height="8.30" fill="#ffc7b6"/>
<rect x="206.94" y="991.69" width="30.77" height="8.30" fill="#ff6848"/>
<rect x="248.90" y="991.69" width="31.77" height="8.30" fill="#8e5eff"/>
<rect x="279.67" y="991.69" width="31.77" height="8.30" fill="#ff290d"/>
<rect x="310.44" y="991.69" width="30.77" height="8.30" fill="#ccafff"/>
<rect x="41.80" y="998.99" width="31.77" height="8.30" fill="#5834fa"/>
<rect x="72.57" y="998.99" width="31.77" height="8.30" fill="#ff4020"/>
<rect x="103.34" y="998.99" width="30.77" height="8.30" fill="#f5f0f2"/>
<rect x="145.40" y="998.99" width="31.77" height="8.30" fill="#362df6"/>
<rect x="176.17" y="998.99" width="31.77" height="8.30" fill="#ff5131"/>
<rect x="206.94" y="998.99" width="30.77" height="8.30" fill="#ffe0d6"/>
<rect x="248.90" y="998.99" width="31.77" height="8.30" fill="#402ef5"/>
<rect x="279.67" y="998.99" width="31.77" height="8.30" fill="#ff4b2b"/>
<rect x="310.44" y="998.99" width="30.77" height="8.30" fill="#ffe8e0"/>
<rect x="41.80" y="1006.29" width="31.77" height="8.30" fill="#8e5eff"/>
<rect x="72.57" y="1006.29" width="31.77" height="8.30" fill="#ff290d"/>
<rect x="103.34" y="1006.29" width="30.77" height="8.30" fill="#ccafff"/>
<rect x="145.40" y="1006.29" width="31.77" height="8.30" fill="#302cf7"/>
<rect x="176.17" y="1006.29" width="31.77" height="8.30" fill="#ff5535"/>
<rect x="206.94" y="1006.29" width="30.77" height="8.30" fill="#ffdbd0"/>
<rect x="248.90" y="1006.29" width="31.77" height="8.30" fill="#efe6f8"/>
<rect x="279.67" y="1006.29" width="31.77" height="8.30" fill="#ff3a1b"/>
<rect x="310.44" y="1006.29" width="30.77" height="8.30" fill="#6138fc"/>
<rect x="41.80" y="1013.59" width="31.77" height="8.30" fill="#663bfd"/>
<rect x="72.57" y="1013.59" width="31.77" height="8.30" fill="#ff3719"/>
<rect x="103.34" y="1013.59" width="30.77" height="8.30" fill="#ebe0fb"/>
<rect x="145.40" y="1013.59" width="31.77" height="8.30" fill="#5834fa"/>
<rect x="176.17" y="1013.59" width="31.77" height="8.30" fill="#ff4020"/>
<rect x="206.94" y="1013.59" width="30.77" height="8.30" fill="#f5f0f2"/>
<rect x="248.90" y="1013.59" width="31.77" height="8.30" fill="#7d4dff"/>
<rect x="279.67" y="1013.59" width="31.77" height="8.30" fill="#ff2d11"/>
<rect x="310.44" y="1013.59" width="30.77" height="8.30" fill="#d9c4ff"/>
<rect x="41.80" y="1020.89" width="31.77" height="8.30" fill="#8e5eff"/>
<rect x="72.57" y="1020.89" width="31.77" height="8.30" fill="#ff290d"/>
<rect x="103.34" y="1020.89" width="30.77" height="8.30" fill="#ccafff"/>
<rect x="145.40" y="1020.89" width="31.77" height="8.30" fill="#252bf8"/>
<rect x="176.17" y="1020.89" width="31.77" height="8.30" fill="#ff5f3f"/>
<rect x="206.94" y="1020.89" width="30.77" height="8.30" fill="#ffd0c2"/>
<rect x="248.90" y="1020.89" width="31.77" height="8.30" fill="#8757ff"/>
<rect x="279.67" y="1020.89" width="31.77" height="8.30" fill="#ff2b0f"/>
<rect x="310.44" y="1020.89" width="30.77" height="8.30" fill="#d2b8ff"/>
<rect x="41.80" y="1028.18" width="31.77" height="8.30" fill="#dfceff"/>
<rect x="72.57" y="1028.18" width="31.77" height="8.30" fill="#ff3014"/>
<rect x="103.34" y="1028.18" width="30.77" height="8.30" fill="#7545ff"/>
<rect x="145.40" y="1028.18" width="31.77" height="8.30" fill="#202bf9"/>
<rect x="176.17" y="1028.18" width="31.77" height="8.30" fill="#ff6343"/>
<rect x="206.94" y="1028.18" width="30.77" height="8.30" fill="#ffcbbc"/>
<rect x="248.90" y="1028.18" width="31.77" height="8.30" fill="#7848ff"/>
<rect x="279.67" y="1028.18" width="31.77" height="8.30" fill="#ff2f13"/>
<rect x="310.44" y="1028.18" width="30.77" height="8.30" fill="#dccaff"/>
<rect x="41.80" y="1035.48" width="31.77" height="8.30" fill="#7848ff"/>
<rect x="72.57" y="1035.48" width="31.77" height="8.30" fill="#ff2f13"/>
<rect x="103.34" y="1035.48" width="30.77" height="8.30" fill="#dccaff"/>
<rect x="145.40" y="1035.48" width="31.77" height="8.30" fill="#252bf8"/>
<rect x="176.17" y="1035.48" width="31.77" height="8.30" fill="#ff5f3f"/>
<rect x="206.94" y="1035.48" width="30.77" height="8.30" fill="#ffd0c2"/>
<rect x="248.90" y="1035.48" width="31.77" height="8.30" fill="#7848ff"/>
<rect x="279.67" y="1035.48" width="31.77" height="8.30" fill="#ff2f13"/>
<rect x="310.44" y="1035.48" width="30.77" height="8.30" fill="#dccaff"/>
<rect x="41.80" y="1042.78" width="31.77" height="7.30" fill="#8757ff"/>
<rect x="72.57" y="1042.78" width="31.77" height="7.30" fill="#ff2b0f"/>
<rect x="103.34" y="1042.78" width="30.77" height="7.30" fill="#d2b8ff"/>
<rect x="145.40" y="1042.78" width="31.77" height="7.30" fill="#252bf8"/>
<rect x="176.17" y="1042.78" width="31.77" height="7.30" fill="#ff5f3f"/>
<rect x="206.94" y="1042.78" width="30.77" height="7.30" fill="#ffd0c2"/>
<rect x="248.90" y="1042.78" width="31.77" height="7.30" fill="#6138fc"/>
<rect x="279.67" y="1042.78" width="31.77" height="7.30" fill="#ff3a1b"/>
<rect x="310.44" y="1042.78" width="30.77" height="7.30" fill="#efe6f8"/>
</g>
<g>
<text class="l" transform="translate(347.0,40.15) scale(1.000,1)">Amino acid (C6H11NO4)</text>
<text class="l" transform="translate(347.0,47.45) scale(1.000,1)">Carnitine</text>
<text class="l" transform="translate(347.0,54.75) scale(1.000,1)">Glutamate</text>
<text class="l" transform="translate(347.0,62.04) scale(1.000,1)">Glycerophosphocholine</text>
<text class="l" transform="translate(347.0,69.34) scale(1.000,1)">Indoleacetaldehyde</text>
<text class="l" transform="translate(347.0,76.64) scale(1.000,1)">Amino acids (C5H7NO3)</text>
<text class="l" transform="translate(347.0,83.94) scale(1.000,1)">Keto acid (C6H10O3)</text>
<text class="l" transform="translate(347.0,91.24) scale(1.000,1)">Alpha ketoglutarate</text>
<text class="l" transform="translate(347.0,98.53) scale(1.000,1)">Lactone (C5H8O5)</text>
<text class="l" transform="translate(347.0,105.83) scale(1.000,1)">Dicarboxylic acid (C3H4O4)</text>
<text class="l" transform="translate(347.0,113.13) scale(1.000,1)">Fumarate</text>
<text class="l" transform="translate(347.0,120.43) scale(1.000,1)">Hydroxyphenyllactate</text>
<text class="l" transform="translate(347.0,127.73) scale(1.000,1)">Hypotaurine</text>
<text class="l" transform="translate(347.0,135.02) scale(1.000,1)">Keto acid (C6H10O3)_2</text>
<text class="l" transform="translate(347.0,142.32) scale(1.000,1)">Malate</text>
<text class="l" transform="translate(347.0,149.62) scale(1.000,1)">Uridine</text>
<text class="k n" transform="translate(25.9,91.6) rotate(-90)">1</text>
<text class="l" transform="translate(347.0,162.92) scale(1.000,1)">Alanine</text>
<text class="l" transform="translate(347.0,170.22) scale(1.000,1)">Amino acid (C4H9NO3)</text>
<text class="l" transform="translate(347.0,177.51) scale(1.000,1)">Arginine</text>
<text class="l" transform="translate(347.0,184.81) scale(1.000,1)">Caffeine</text>
<text class="l" transform="translate(347.0,192.11) scale(1.000,1)">Guanidinoacetate</text>
<text class="l" transform="translate(347.0,199.41) scale(1.000,1)">Hydroxyproline</text>
<text class="l" transform="translate(347.0,206.71) scale(1.000,1)">Kynurenate</text>
<text class="l" transform="translate(347.0,214.00) scale(1.000,1)">Lauroylcarnitine</text>
<text class="l" transform="translate(347.0,221.30) scale(1.000,1)">Lysine</text>
<text class="l" transform="translate(347.0,228.60) scale(1.000,1)">Methionine</text>
<text class="l" transform="translate(347.0,235.90) scale(1.000,1)">Methyl indoleacetic acid</text>
<text class="l" transform="translate(347.0,243.20) scale(1.000,1)">Methylthioadenosine</text>
<text class="l" transform="translate(347.0,250.49) scale(1.000,1)">Ornithine</text>
<text class="l" transform="translate(347.0,257.79) scale(1.000,1)">Paraxanthine</text>
<text class="l" transform="translate(347.0,265.09) scale(1.000,1)">Proline</text>
<text class="l" transform="translate(347.0,272.39) scale(1.000,1)">Theobromine</text>
<text class="l" transform="translate(347.0,279.69) scale(1.000,1)">Trigonelline</text>
<text class="l" transform="translate(347.0,286.98) scale(1.000,1)">Trimethyllysine</text>
<text class="l" transform="translate(347.0,294.28) scale(1.000,1)">Tyrosine</text>
<text class="k" transform="translate(25.1,226.1) rotate(-90)">2</text>
<text class="l" transform="translate(347.0,307.58) scale(1.000,1)">Aminocyclopropanecarboxylate</text>
<text class="l" transform="translate(347.0,314.88) scale(1.000,1)">Choline</text>
<text class="l" transform="translate(347.0,322.18) scale(1.000,1)">Creatine</text>
<text class="l" transform="translate(347.0,329.47) scale(1.000,1)">Glycine</text>
<text class="l" transform="translate(347.0,336.77) scale(1.000,1)">Histidine</text>
<text class="l" transform="translate(347.0,344.07) scale(1.000,1)">Indoleacetate</text>
<text class="l" transform="translate(347.0,351.37) scale(1.000,1)">Isoleucine</text>
<text class="l" transform="translate(347.0,358.67) scale(1.000,1)">Kynurenine</text>
<text class="l" transform="translate(347.0,365.96) scale(1.000,1)">Amino acids (C4H5NO3)</text>
<text class="l" transform="translate(347.0,373.26) scale(1.000,1)">Monolein</text>
<text class="l" transform="translate(347.0,380.56) scale(1.000,1)">Tryptophan</text>
<text class="l" transform="translate(347.0,387.86) scale(1.000,1)">4 Acetamidobutanoate</text>
<text class="l" transform="translate(347.0,395.16) scale(1.000,1)">Fatty alcohol 4:1 O2</text>
<text class="l" transform="translate(347.0,402.45) scale(1.000,1)">Acetylaspartate</text>
<text class="l" transform="translate(347.0,409.75) scale(1.000,1)">Acetyllysine</text>
<text class="l" transform="translate(347.0,417.05) scale(1.000,1)">Acetylneuraminate</text>
<text class="l" transform="translate(347.0,424.35) scale(1.000,1)">Amino acid (C11H13NO3)</text>
<text class="l" transform="translate(347.0,431.65) scale(1.000,1)">Amino acid (C13H14N2O3)</text>
<text class="l" transform="translate(347.0,438.94) scale(1.000,1)">Adenine</text>
<text class="l" transform="translate(347.0,446.24) scale(1.000,1)">Adenosine</text>
<text class="l" transform="translate(347.0,453.54) scale(1.000,1)">Azole (C4H6N4O3)</text>
<text class="l" transform="translate(347.0,460.84) scale(1.000,1)">Alkyl phenylketone (C8H8O3)</text>
<text class="l" transform="translate(347.0,468.14) scale(1.000,1)">Allantoin</text>
<text class="l" transform="translate(347.0,475.43) scale(1.000,1)">Asparagine</text>
<text class="l" transform="translate(347.0,482.73) scale(1.000,1)">Aspartate</text>
<text class="l" transform="translate(347.0,490.03) scale(1.000,1)">Cholate</text>
<text class="l" transform="translate(347.0,497.33) scale(1.000,1)">Citrulline</text>
<text class="l" transform="translate(347.0,504.63) scale(1.000,1)">Cystine</text>
<text class="l" transform="translate(347.0,511.92) scale(1.000,1)">Fatty acid 10:0</text>
<text class="l" transform="translate(347.0,519.22) scale(1.000,1)">Ethyl malonate</text>
<text class="l" transform="translate(347.0,526.52) scale(1.000,1)">Gluconate</text>
<text class="l" transform="translate(347.0,533.82) scale(1.000,1)">Glucuronate</text>
<text class="l" transform="translate(347.0,541.12) scale(1.000,1)">Dicarboxylic acid (C5H8O4)</text>
<text class="l" transform="translate(347.0,548.41) scale(1.000,1)">Glutamine</text>
<text class="l" transform="translate(347.0,555.71) scale(1.000,1)">Glutarate</text>
<text class="l" transform="translate(347.0,563.01) scale(1.000,1)">Glyceraldehyde</text>
<text class="l" transform="translate(347.0,570.31) scale(1.000,1)">Glycerate</text>
<text class="l" transform="translate(347.0,577.61) scale(1.000,1)">Glycocholate</text>
<text class="l" transform="translate(347.0,584.90) scale(1.000,1)">Hexose (C6H12O6)</text>
<text class="l" transform="translate(347.0,592.20) scale(1.000,1)">Hippurate</text>
<text class="l" transform="translate(347.0,599.50) scale(1.000,1)">Indole (C10H9NO2)</text>
<text class="l" transform="translate(347.0,606.80) scale(1.000,1)">Indoxylsulfate</text>
<text class="l" transform="translate(347.0,614.10) scale(1.000,1)">Lactone (C6H10O6)</text>
<text class="l" transform="translate(347.0,621.39) scale(1.000,1)">Phenylpropanoic acid (C9H10O3)</text>
<text class="l" transform="translate(347.0,628.69) scale(1.000,1)">Pentose (C5H10O5)</text>
<text class="l" transform="translate(347.0,635.99) scale(1.000,1)">Protocatechuate</text>
<text class="l" transform="translate(347.0,643.29) scale(1.000,1)">Quinate</text>
<text class="l" transform="translate(347.0,650.59) scale(1.000,1)">Salicylate</text>
<text class="l" transform="translate(347.0,657.88) scale(1.000,1)">Serine</text>
<text class="l" transform="translate(347.0,665.18) scale(1.000,1)">Succinate</text>
<text class="l" transform="translate(347.0,672.48) scale(1.000,1)">Sugar alcohol (C6H14O6)</text>
<text class="l" transform="translate(347.0,679.78) scale(1.000,1)">Sugar alcohols (C5H12O5)</text>
<text class="l" transform="translate(347.0,687.08) scale(1.000,1)">Taurine</text>
<text class="l" transform="translate(347.0,694.37) scale(1.000,1)">Urate</text>
<text class="l" transform="translate(347.0,701.67) scale(1.000,1)">Nucleoside (C9H12N2O6)</text>
<text class="k" transform="translate(25.1,502.2) rotate(-90)">3</text>
<text class="l" transform="translate(347.0,714.97) scale(1.000,1)">Acetoacetate</text>
<text class="l" transform="translate(347.0,722.27) scale(1.000,1)">Acetylalanine</text>
<text class="l" transform="translate(347.0,729.57) scale(1.000,1)">AIB</text>
<text class="l" transform="translate(347.0,736.86) scale(1.000,1)">Hydroxysteroids (C21H30O4)</text>
<text class="l" transform="translate(347.0,744.16) scale(1.000,1)">Corticosterone</text>
<text class="l" transform="translate(347.0,751.46) scale(1.000,1)">Cortisol</text>
<text class="l" transform="translate(347.0,758.76) scale(1.000,1)">Cortisone</text>
<text class="l" transform="translate(347.0,766.06) scale(1.000,1)">Creatinine</text>
<text class="l" transform="translate(347.0,773.35) scale(1.000,1)">Deoxyglucose</text>
<text class="l" transform="translate(347.0,780.65) scale(1.000,1)">Dihydrouracil</text>
<text class="l" transform="translate(347.0,787.95) scale(1.000,1)">Guanidinosuccinate</text>
<text class="l" transform="translate(347.0,795.25) scale(1.000,1)">Guanosine</text>
<text class="l" transform="translate(347.0,802.55) scale(1.000,1)">Homocyteine</text>
<text class="l" transform="translate(347.0,809.84) scale(1.000,1)">Hypoxanthine</text>
<text class="l" transform="translate(347.0,817.14) scale(1.000,1)">Purines (C5H4N4O)</text>
<text class="l" transform="translate(347.0,824.44) scale(1.000,1)">Inosine</text>
<text class="l" transform="translate(347.0,831.74) scale(1.000,1)">Leucine</text>
<text class="l" transform="translate(347.0,839.04) scale(1.000,1)">Nicotinamide</text>
<text class="l" transform="translate(347.0,846.33) scale(1.000,1)">Pantothenate</text>
<text class="l" transform="translate(347.0,853.63) scale(1.000,1)">Pipecolate</text>
<text class="l" transform="translate(347.0,860.93) scale(1.000,1)">Thyroxine</text>
<text class="l" transform="translate(347.0,868.23) scale(1.000,1)">Uracil</text>
<text class="l" transform="translate(347.0,875.53) scale(1.000,1)">Urea</text>
<text class="l" transform="translate(347.0,882.82) scale(1.000,1)">Valine</text>
<text class="l" transform="translate(347.0,890.12) scale(1.000,1)">Xanthine</text>
<text class="l" transform="translate(347.0,897.42) scale(1.000,1)">Acetylglycine</text>
<text class="l" transform="translate(347.0,904.72) scale(1.000,1)">Alpha HIB</text>
<text class="l" transform="translate(347.0,912.02) scale(1.000,1)">Pyruvate</text>
<text class="k" transform="translate(25.1,811.0) rotate(-90)">4</text>
<text class="l" transform="translate(347.0,925.31) scale(1.000,1)">3 Methylhistidine</text>
<text class="l" transform="translate(347.0,932.61) scale(1.000,1)">Betaine</text>
<text class="l" transform="translate(347.0,939.91) scale(1.000,1)">Fatty acids (C7H15NO2)</text>
<text class="l" transform="translate(347.0,947.21) scale(1.000,1)">Hydroxytryptophan</text>
<text class="l" transform="translate(347.0,954.51) scale(1.000,1)">Methyladenosine</text>
<text class="l" transform="translate(347.0,961.80) scale(1.000,1)">Oxoproline</text>
<text class="l" transform="translate(347.0,969.10) scale(1.000,1)">Phenylalanine</text>
<text class="l" transform="translate(347.0,976.40) scale(1.000,1)">Theophylline</text>
<text class="l" transform="translate(347.0,983.70) scale(1.000,1)">Vanilalanine</text>
<text class="l" transform="translate(347.0,991.00) scale(1.000,1)">Fatty acid 12:0</text>
<text class="l" transform="translate(347.0,998.29) scale(1.000,1)">Docosahexaenoate</text>
<text class="l" transform="translate(347.0,1005.59) scale(1.000,1)">Fatty acid 22:1</text>
<text class="l" transform="translate(347.0,1012.89) scale(1.000,1)">Fatty acid 10:0 O2</text>
<text class="l" transform="translate(347.0,1020.19) scale(1.000,1)">Lactate</text>
<text class="l" transform="translate(347.0,1027.49) scale(1.000,1)">Myristate</text>
<text class="l" transform="translate(347.0,1034.78) scale(1.000,1)">Palmitate</text>
<text class="l" transform="translate(347.0,1042.08) scale(1.000,1)">Palmitoleate</text>
<text class="l" transform="translate(347.0,1049.38) scale(1.000,1)">Fatty acid 18:1</text>
<text class="k" transform="translate(25.1,984.9) rotate(-90)">5</text>
</g>
<text class="b" transform="translate(62.2,1055.6) rotate(-90)">Baseline</text>
<text class="b" transform="translate(93.0,1055.6) rotate(-90)">Hypoxia</text>
<text class="b" transform="translate(123.8,1055.6) rotate(-90)">Recovery</text>
<text class="b" transform="translate(165.8,1055.6) rotate(-90)">Baseline</text>
<text class="b" transform="translate(196.6,1055.6) rotate(-90)">Hypoxia</text>
<text class="b" transform="translate(227.4,1055.6) rotate(-90)">Recovery</text>
<text class="b" transform="translate(269.3,1055.6) rotate(-90)">Baseline</text>
<text class="b" transform="translate(300.1,1055.6) rotate(-90)">Hypoxia</text>
<text class="b" transform="translate(330.9,1055.6) rotate(-90)">Recovery</text>
<text transform="translate(482.8,482.8) scale(1.12,1)" style="font-size:18.2px;font-weight:bold">Reg</text>
<defs><linearGradient id="lg" x1="0" y1="0" x2="0" y2="1"><stop offset="0.0000" stop-color="#ff260a"/><stop offset="0.0167" stop-color="#ff260a"/><stop offset="0.0333" stop-color="#ff260a"/><stop offset="0.0500" stop-color="#ff260a"/><stop offset="0.0667" stop-color="#ff260a"/><stop offset="0.0833" stop-color="#ff260a"/><stop offset="0.1000" stop-color="#ff260a"/><stop offset="0.1167" stop-color="#ff260a"/><stop offset="0.1333" stop-color="#ff260a"/><stop offset="0.1500" stop-color="#ff290d"/><stop offset="0.1667" stop-color="#ff3215"/><stop offset="0.1833" stop-color="#ff3b1c"/><stop offset="0.2000" stop-color="#ff4626"/><stop offset="0.2167" stop-color="#ff5030"/><stop offset="0.2333" stop-color="#ff5c3c"/><stop offset="0.2500" stop-color="#ff6848"/><stop offset="0.2667" stop-color="#ff7353"/><stop offset="0.2833" stop-color="#ff7e5e"/><stop offset="0.3000" stop-color="#ff8868"/><stop offset="0.3167" stop-color="#ff9374"/><stop offset="0.3333" stop-color="#ff9d80"/><stop offset="0.3500" stop-color="#ffa78d"/><stop offset="0.3667" stop-color="#ffb299"/><stop offset="0.3833" stop-color="#ffbca5"/><stop offset="0.4000" stop-color="#ffc4b2"/><stop offset="0.4167" stop-color="#ffcdbe"/><stop offset="0.4333" stop-color="#ffd6c9"/><stop offset="0.4500" stop-color="#ffded4"/><stop offset="0.4667" stop-color="#ffe7df"/><stop offset="0.4833" stop-color="#faece8"/><stop offset="0.5000" stop-color="#f5f0f2"/><stop offset="0.5167" stop-color="#f0e8f6"/><stop offset="0.5333" stop-color="#ebe0fa"/><stop offset="0.5500" stop-color="#e4d7fd"/><stop offset="0.5667" stop-color="#decdff"/><stop offset="0.5833" stop-color="#d8c2ff"/><stop offset="0.6000" stop-color="#d1b7ff"/><stop offset="0.6167" stop-color="#cbacff"/><stop offset="0.6333" stop-color="#c3a0ff"/><stop offset="0.6500" stop-color="#ba93ff"/><stop offset="0.6667" stop-color="#b187ff"/><stop offset="0.6833" stop-color="#a97bff"/><stop offset="0.7000" stop-color="#a072ff"/><stop offset="0.7167" stop-color="#9869ff"/><stop offset="0.7333" stop-color="#8f60ff"/><stop offset="0.7500" stop-color="#8555ff"/><stop offset="0.7667" stop-color="#7848ff"/><stop offset="0.7833" stop-color="#6b3efe"/><stop offset="0.8000" stop-color="#5e37fb"/><stop offset="0.8167" stop-color="#4a31f7"/><stop offset="0.8333" stop-color="#2f2cf7"/><stop offset="0.8500" stop-color="#1429fb"/><stop offset="0.8667" stop-color="#0a28fc"/><stop offset="0.8833" stop-color="#0a28fc"/><stop offset="0.9000" stop-color="#0a28fc"/><stop offset="0.9167" stop-color="#0a28fc"/><stop offset="0.9333" stop-color="#0a28fc"/><stop offset="0.9500" stop-color="#0a28fc"/><stop offset="0.9667" stop-color="#0a28fc"/><stop offset="0.9833" stop-color="#0a28fc"/><stop offset="1.0000" stop-color="#0a28fc"/></linearGradient></defs>
<rect x="482.1" y="493.9" width="24.8" height="121.4" fill="url(#lg)"/>
<rect x="482.1" y="497.80" width="5.6" height="1.2" fill="#fff"/><rect x="501.1" y="497.80" width="5.8" height="1.2" fill="#fff"/><text class="t" transform="translate(511.2,505.6) ">1.5</text>
<rect x="482.1" y="535.25" width="5.6" height="1.2" fill="#fff"/><rect x="501.1" y="535.25" width="5.8" height="1.2" fill="#fff"/><text class="t" transform="translate(511.2,543.1) ">0.5</text>
<rect x="482.1" y="572.70" width="5.6" height="1.2" fill="#fff"/><rect x="501.1" y="572.70" width="5.8" height="1.2" fill="#fff"/><text class="t" transform="translate(507.0,580.5) ">−0.5</text>
<rect x="482.1" y="610.15" width="5.6" height="1.2" fill="#fff"/><rect x="501.1" y="610.15" width="5.8" height="1.2" fill="#fff"/><text class="t" transform="translate(507.0,618.0) ">−1.5</text>
</svg>
</body></html>
